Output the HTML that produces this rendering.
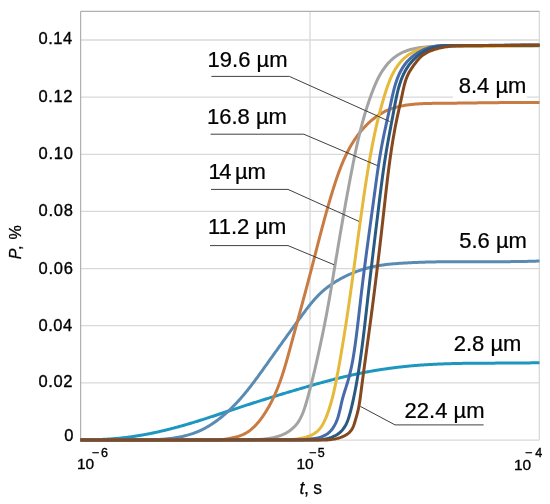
<!DOCTYPE html>
<html><head><meta charset="utf-8"><style>
html,body{margin:0;padding:0;background:#fff;}
svg{display:block;filter:blur(0.35px);}
text{font-family:"Liberation Sans",sans-serif;fill:#000;}
</style></head><body>
<svg width="550" height="504" viewBox="0 0 550 504">
<rect width="550" height="504" fill="#fff"/>
<g stroke="#d9d9d9" stroke-width="1.3" fill="none"><line x1="80.5" x2="539.5" y1="382.9" y2="382.9"/><line x1="80.5" x2="539.5" y1="325.7" y2="325.7"/><line x1="80.5" x2="539.5" y1="268.6" y2="268.6"/><line x1="80.5" x2="539.5" y1="211.4" y2="211.4"/><line x1="80.5" x2="539.5" y1="154.3" y2="154.3"/><line x1="80.5" x2="539.5" y1="97.1" y2="97.1"/><line x1="80.5" x2="539.5" y1="40.0" y2="40.0"/>
<line x1="310" x2="310" y1="11.4" y2="440"/>
<line x1="539.3" x2="539.3" y1="11.4" y2="440"/>
<line x1="80.5" x2="539.5" y1="440.2" y2="440.2"/>
</g>
<g stroke="#b0b0b0" stroke-width="1.2" fill="none">
<line x1="80.5" x2="539.5" y1="11.4" y2="11.4"/>
<line x1="80.6" x2="80.6" y1="11.4" y2="440.5"/>
</g>
<g fill="none" stroke-width="3" stroke-linejoin="round" stroke-linecap="butt">
<path d="M80.50,439.59 L81.18,439.59 L81.97,439.59 L82.76,439.59 L83.55,439.59 L84.34,439.59 L85.13,439.59 L85.92,439.59 L86.71,439.59 L87.50,439.59 L88.29,439.59 L89.07,439.59 L89.86,439.59 L90.65,439.59 L91.44,439.59 L92.23,439.59 L93.01,439.59 L93.80,439.59 L94.59,439.59 L95.37,439.59 L96.16,439.59 L96.95,439.59 L97.73,439.58 L98.52,439.55 L99.30,439.53 L100.09,439.50 L100.87,439.47 L101.66,439.44 L102.44,439.41 L103.23,439.37 L104.01,439.33 L104.80,439.29 L105.58,439.25 L106.36,439.21 L107.15,439.16 L107.93,439.11 L108.71,439.06 L109.50,439.01 L110.28,438.96 L111.06,438.90 L111.84,438.84 L112.62,438.78 L113.40,438.72 L114.18,438.66 L114.96,438.59 L115.75,438.52 L116.53,438.45 L117.30,438.38 L118.08,438.31 L118.86,438.23 L119.64,438.15 L120.42,438.08 L121.20,437.99 L121.98,437.91 L122.75,437.82 L123.53,437.74 L124.31,437.65 L125.09,437.56 L125.86,437.46 L126.64,437.37 L127.41,437.27 L128.19,437.17 L128.96,437.07 L129.74,436.97 L130.51,436.86 L131.29,436.75 L132.06,436.64 L132.84,436.53 L133.61,436.42 L134.38,436.31 L135.15,436.19 L135.93,436.07 L136.70,435.95 L137.47,435.83 L138.24,435.70 L139.01,435.58 L139.78,435.45 L140.55,435.32 L141.32,435.19 L142.09,435.05 L142.86,434.92 L143.63,434.78 L144.40,434.64 L145.16,434.50 L145.93,434.36 L146.70,434.21 L147.47,434.07 L148.23,433.92 L149.00,433.77 L149.77,433.62 L150.53,433.47 L151.30,433.31 L152.06,433.16 L152.83,433.00 L153.59,432.84 L154.35,432.68 L155.12,432.51 L155.88,432.35 L156.64,432.18 L157.41,432.02 L158.17,431.85 L158.93,431.68 L159.69,431.51 L160.45,431.33 L161.22,431.16 L161.98,430.98 L162.74,430.80 L163.50,430.62 L164.26,430.44 L165.02,430.26 L165.77,430.07 L166.53,429.89 L167.29,429.70 L168.05,429.51 L168.81,429.33 L169.57,429.13 L170.32,428.94 L171.08,428.75 L171.84,428.55 L172.59,428.36 L173.35,428.16 L174.10,427.96 L174.86,427.76 L175.61,427.56 L176.37,427.36 L177.12,427.15 L177.88,426.95 L178.63,426.74 L179.38,426.53 L180.14,426.32 L180.89,426.11 L181.64,425.90 L182.39,425.69 L183.14,425.48 L183.90,425.26 L184.65,425.04 L185.40,424.83 L186.15,424.61 L186.90,424.39 L187.65,424.17 L188.40,423.95 L189.15,423.73 L189.90,423.50 L190.65,423.28 L191.40,423.05 L192.14,422.83 L192.89,422.60 L193.64,422.37 L194.39,422.15 L195.14,421.92 L195.88,421.69 L196.63,421.45 L197.38,421.22 L198.12,420.99 L198.87,420.76 L199.62,420.52 L200.36,420.29 L201.11,420.05 L201.85,419.82 L202.60,419.58 L203.34,419.34 L204.09,419.10 L204.83,418.87 L205.58,418.63 L206.32,418.39 L207.07,418.15 L207.81,417.91 L208.56,417.66 L209.30,417.42 L210.05,417.18 L210.79,416.94 L211.53,416.69 L212.28,416.45 L213.02,416.21 L213.76,415.96 L214.51,415.72 L215.25,415.47 L215.99,415.23 L216.74,414.98 L217.48,414.74 L218.22,414.49 L218.97,414.25 L219.71,414.00 L220.45,413.75 L221.20,413.51 L221.94,413.26 L222.68,413.01 L223.42,412.77 L224.17,412.52 L224.91,412.27 L225.65,412.03 L226.40,411.78 L227.14,411.53 L227.88,411.28 L228.62,411.04 L229.37,410.79 L230.11,410.54 L230.85,410.30 L231.59,410.05 L232.34,409.80 L233.08,409.56 L233.82,409.31 L234.57,409.06 L235.31,408.82 L236.05,408.57 L236.79,408.33 L237.54,408.08 L238.28,407.84 L239.02,407.59 L239.77,407.35 L240.51,407.11 L241.25,406.86 L242.00,406.62 L242.74,406.38 L243.49,406.13 L244.23,405.89 L244.97,405.65 L245.72,405.41 L246.46,405.17 L247.21,404.93 L247.95,404.69 L248.70,404.45 L249.44,404.21 L250.19,403.97 L250.93,403.73 L251.68,403.49 L252.42,403.25 L253.17,403.02 L253.91,402.78 L254.66,402.54 L255.40,402.31 L256.15,402.07 L256.89,401.83 L257.64,401.60 L258.38,401.36 L259.13,401.13 L259.88,400.89 L260.62,400.66 L261.37,400.43 L262.12,400.19 L262.86,399.96 L263.61,399.73 L264.35,399.49 L265.10,399.26 L265.85,399.03 L266.60,398.80 L267.34,398.57 L268.09,398.33 L268.84,398.10 L269.58,397.87 L270.33,397.64 L271.08,397.41 L271.83,397.18 L272.57,396.95 L273.32,396.73 L274.07,396.50 L274.82,396.27 L275.57,396.04 L276.31,395.81 L277.06,395.58 L277.81,395.36 L278.56,395.13 L279.31,394.90 L280.06,394.68 L280.80,394.45 L281.55,394.23 L282.30,394.00 L283.05,393.77 L283.80,393.55 L284.55,393.32 L285.30,393.10 L286.05,392.88 L286.80,392.65 L287.55,392.43 L288.30,392.20 L289.05,391.98 L289.80,391.76 L290.55,391.54 L291.30,391.31 L292.05,391.09 L292.80,390.87 L293.55,390.65 L294.30,390.43 L295.05,390.20 L295.80,389.98 L296.55,389.76 L297.30,389.54 L298.05,389.32 L298.80,389.10 L299.55,388.88 L300.31,388.66 L301.06,388.44 L301.81,388.22 L302.56,388.01 L303.31,387.79 L304.06,387.57 L304.82,387.35 L305.57,387.13 L306.32,386.92 L307.07,386.70 L307.82,386.48 L308.58,386.27 L309.33,386.05 L310.08,385.84 L310.84,385.62 L311.59,385.41 L312.34,385.19 L313.09,384.98 L313.85,384.77 L314.60,384.56 L315.36,384.34 L316.11,384.13 L316.86,383.92 L317.62,383.71 L318.37,383.50 L319.13,383.29 L319.88,383.08 L320.64,382.88 L321.39,382.67 L322.15,382.46 L322.90,382.26 L323.66,382.05 L324.41,381.85 L325.17,381.65 L325.92,381.44 L326.68,381.24 L327.44,381.04 L328.19,380.84 L328.95,380.64 L329.71,380.44 L330.46,380.24 L331.22,380.04 L331.98,379.85 L332.73,379.65 L333.49,379.46 L334.25,379.26 L335.01,379.07 L335.77,378.88 L336.53,378.69 L337.28,378.50 L338.04,378.31 L338.80,378.12 L339.56,377.93 L340.32,377.74 L341.08,377.56 L341.84,377.37 L342.60,377.19 L343.36,377.01 L344.12,376.83 L344.88,376.65 L345.64,376.47 L346.41,376.29 L347.17,376.11 L347.93,375.94 L348.69,375.76 L349.45,375.59 L350.22,375.42 L350.98,375.25 L351.74,375.08 L352.51,374.91 L353.27,374.74 L354.03,374.57 L354.80,374.41 L355.56,374.24 L356.33,374.08 L357.09,373.92 L357.86,373.76 L358.62,373.60 L359.39,373.45 L360.15,373.29 L360.92,373.14 L361.69,372.98 L362.45,372.83 L363.22,372.68 L363.99,372.53 L364.75,372.38 L365.52,372.24 L366.29,372.09 L367.06,371.95 L367.83,371.81 L368.60,371.66 L369.36,371.52 L370.13,371.39 L370.90,371.25 L371.67,371.11 L372.44,370.98 L373.21,370.85 L373.98,370.71 L374.75,370.58 L375.53,370.45 L376.30,370.33 L377.07,370.20 L377.84,370.07 L378.61,369.95 L379.38,369.83 L380.15,369.71 L380.93,369.59 L381.70,369.47 L382.47,369.35 L383.25,369.23 L384.02,369.12 L384.79,369.00 L385.57,368.89 L386.34,368.78 L387.11,368.67 L387.89,368.56 L388.66,368.45 L389.44,368.35 L390.21,368.24 L390.99,368.14 L391.76,368.04 L392.54,367.94 L393.31,367.84 L394.09,367.74 L394.86,367.64 L395.64,367.54 L396.42,367.45 L397.19,367.36 L397.97,367.26 L398.74,367.17 L399.52,367.08 L400.30,366.99 L401.08,366.91 L401.85,366.82 L402.63,366.73 L403.41,366.65 L404.19,366.57 L404.96,366.49 L405.74,366.41 L406.52,366.33 L407.30,366.25 L408.08,366.17 L408.85,366.10 L409.63,366.02 L410.41,365.95 L411.19,365.88 L411.97,365.81 L412.75,365.74 L413.53,365.67 L414.31,365.61 L415.09,365.54 L415.87,365.48 L416.65,365.41 L417.43,365.35 L418.21,365.29 L418.99,365.23 L419.77,365.17 L420.55,365.11 L421.33,365.06 L422.11,365.00 L422.89,364.95 L423.67,364.89 L424.45,364.84 L425.23,364.79 L426.01,364.74 L426.79,364.69 L427.57,364.64 L428.35,364.60 L429.14,364.55 L429.92,364.51 L430.70,364.46 L431.48,364.42 L432.26,364.38 L433.04,364.34 L433.82,364.30 L434.61,364.26 L435.39,364.22 L436.17,364.18 L436.95,364.15 L437.73,364.11 L438.52,364.08 L439.30,364.04 L440.08,364.01 L440.86,363.98 L441.65,363.95 L442.43,363.92 L443.21,363.89 L443.99,363.86 L444.78,363.83 L445.56,363.80 L446.34,363.78 L447.12,363.75 L447.91,363.73 L448.69,363.70 L449.47,363.68 L450.26,363.66 L451.04,363.63 L451.82,363.61 L452.61,363.59 L453.39,363.57 L454.17,363.55 L454.96,363.53 L455.74,363.51 L456.52,363.50 L457.31,363.48 L458.09,363.46 L458.87,363.45 L459.66,363.43 L460.44,363.42 L461.22,363.40 L462.01,363.39 L462.79,363.37 L463.57,363.36 L464.36,363.35 L465.14,363.34 L465.92,363.33 L466.71,363.31 L467.49,363.30 L468.27,363.29 L469.06,363.28 L469.84,363.28 L470.63,363.27 L471.41,363.26 L472.19,363.25 L472.98,363.24 L473.76,363.23 L474.54,363.23 L475.33,363.22 L476.11,363.21 L476.90,363.21 L477.68,363.20 L478.46,363.20 L479.25,363.19 L480.03,363.19 L480.81,363.18 L481.60,363.18 L482.38,363.17 L483.17,363.17 L483.95,363.17 L484.73,363.16 L485.52,363.16 L486.30,363.15 L487.08,363.15 L487.87,363.15 L488.65,363.15 L489.43,363.14 L490.22,363.14 L491.00,363.14 L491.78,363.14 L492.57,363.13 L493.35,363.13 L494.13,363.13 L494.92,363.13 L495.70,363.12 L496.48,363.12 L497.27,363.12 L498.05,363.12 L498.83,363.11 L499.62,363.11 L500.40,363.11 L501.18,363.11 L501.96,363.11 L502.75,363.10 L503.53,363.10 L504.31,363.10 L505.09,363.09 L505.88,363.09 L506.66,363.09 L507.44,363.09 L508.22,363.08 L509.01,363.08 L509.79,363.07 L510.57,363.07 L511.35,363.07 L512.14,363.06 L512.92,363.06 L513.70,363.05 L514.48,363.05 L515.26,363.04 L516.04,363.04 L516.83,363.03 L517.61,363.02 L518.39,363.02 L519.17,363.01 L519.95,363.00 L520.73,363.00 L521.51,362.99 L522.29,362.98 L523.08,362.97 L523.86,362.96 L524.64,362.95 L525.42,362.94 L526.20,362.93 L526.98,362.92 L527.76,362.91 L528.54,362.90 L529.32,362.89 L530.10,362.88 L530.88,362.86 L531.66,362.85 L532.44,362.84 L533.22,362.82 L534.00,362.81 L534.78,362.79 L535.56,362.77 L536.34,362.76 L537.11,362.74 L537.89,362.72 L538.67,362.70 L539.45,362.68" stroke="#1d96c0"/><path d="M80.51,440.00 L81.39,440.00 L82.28,440.00 L83.17,440.00 L84.05,440.00 L84.94,440.00 L85.83,440.00 L86.72,439.99 L87.61,439.96 L88.49,439.94 L89.38,439.92 L90.27,439.90 L91.16,439.88 L92.04,439.87 L92.93,439.86 L93.82,439.85 L94.71,439.84 L95.59,439.83 L96.48,439.82 L97.37,439.82 L98.26,439.82 L99.15,439.82 L100.03,439.82 L100.92,439.82 L101.81,439.82 L102.70,439.82 L103.59,439.82 L104.47,439.82 L105.36,439.82 L106.25,439.82 L107.14,439.82 L108.03,439.82 L108.91,439.82 L109.80,439.82 L110.69,439.82 L111.58,439.82 L112.47,439.82 L113.35,439.82 L114.24,439.82 L115.13,439.82 L116.02,439.82 L116.91,439.82 L117.79,439.82 L118.68,439.82 L119.57,439.82 L120.46,439.82 L121.35,439.82 L122.23,439.82 L123.12,439.82 L124.01,439.82 L124.90,439.82 L125.79,439.82 L126.67,439.82 L127.56,439.82 L128.45,439.82 L129.34,439.82 L130.23,439.82 L131.11,439.82 L132.00,439.82 L132.89,439.82 L133.78,439.82 L134.67,439.82 L135.55,439.82 L136.44,439.82 L137.33,439.82 L138.22,439.82 L139.11,439.82 L139.99,439.82 L140.88,439.82 L141.77,439.82 L142.66,439.82 L143.55,439.82 L144.43,439.82 L145.32,439.82 L146.21,439.82 L147.10,439.82 L147.98,439.82 L148.87,439.82 L149.76,439.82 L150.65,439.82 L151.53,439.82 L152.42,439.82 L153.31,439.82 L154.20,439.79 L155.08,439.75 L155.97,439.70 L156.86,439.65 L157.75,439.60 L158.63,439.54 L159.52,439.48 L160.41,439.42 L161.30,439.35 L162.18,439.28 L163.07,439.21 L163.96,439.13 L164.84,439.05 L165.73,438.97 L166.62,438.88 L167.50,438.78 L168.39,438.69 L169.27,438.59 L170.15,438.48 L171.04,438.37 L171.92,438.25 L172.80,438.13 L173.68,438.00 L174.56,437.87 L175.43,437.74 L176.31,437.59 L177.18,437.44 L178.06,437.29 L178.93,437.13 L179.80,436.96 L180.66,436.79 L181.53,436.61 L182.39,436.42 L183.26,436.23 L184.12,436.02 L184.97,435.82 L185.83,435.60 L186.68,435.38 L187.53,435.15 L188.38,434.91 L189.23,434.66 L190.07,434.41 L190.91,434.15 L191.75,433.88 L192.58,433.60 L193.42,433.31 L194.25,433.01 L195.07,432.71 L195.89,432.39 L196.71,432.07 L197.53,431.74 L198.34,431.40 L199.15,431.04 L199.96,430.68 L200.76,430.31 L201.56,429.93 L202.35,429.54 L203.14,429.15 L203.93,428.74 L204.71,428.33 L205.49,427.91 L206.27,427.48 L207.04,427.04 L207.81,426.59 L208.58,426.14 L209.34,425.68 L210.10,425.21 L210.85,424.74 L211.60,424.26 L212.34,423.77 L213.09,423.28 L213.82,422.78 L214.56,422.27 L215.29,421.76 L216.01,421.24 L216.73,420.71 L217.45,420.18 L218.17,419.65 L218.87,419.11 L219.58,418.56 L220.28,418.01 L220.98,417.46 L221.67,416.90 L222.36,416.34 L223.04,415.77 L223.72,415.20 L224.40,414.62 L225.07,414.04 L225.73,413.46 L226.40,412.87 L227.06,412.28 L227.71,411.68 L228.36,411.08 L229.01,410.48 L229.65,409.87 L230.29,409.26 L230.93,408.65 L231.56,408.03 L232.19,407.41 L232.82,406.79 L233.44,406.16 L234.06,405.53 L234.68,404.89 L235.29,404.26 L235.90,403.61 L236.50,402.97 L237.11,402.33 L237.71,401.68 L238.30,401.02 L238.90,400.37 L239.49,399.71 L240.08,399.05 L240.66,398.39 L241.25,397.72 L241.83,397.05 L242.40,396.38 L242.98,395.71 L243.55,395.03 L244.12,394.35 L244.69,393.67 L245.25,392.99 L245.82,392.31 L246.38,391.62 L246.94,390.93 L247.49,390.24 L248.05,389.55 L248.60,388.85 L249.15,388.16 L249.70,387.46 L250.24,386.76 L250.79,386.06 L251.33,385.35 L251.87,384.65 L252.41,383.94 L252.95,383.24 L253.49,382.53 L254.02,381.82 L254.55,381.10 L255.09,380.39 L255.62,379.68 L256.15,378.96 L256.67,378.25 L257.20,377.53 L257.73,376.81 L258.25,376.09 L258.78,375.37 L259.30,374.65 L259.82,373.93 L260.34,373.21 L260.86,372.49 L261.38,371.77 L261.90,371.04 L262.42,370.32 L262.94,369.60 L263.45,368.87 L263.97,368.15 L264.49,367.42 L265.00,366.70 L265.52,365.97 L266.03,365.25 L266.55,364.52 L267.06,363.80 L267.58,363.07 L268.09,362.35 L268.61,361.62 L269.12,360.90 L269.64,360.18 L270.15,359.45 L270.67,358.73 L271.18,358.00 L271.69,357.28 L272.21,356.56 L272.72,355.84 L273.24,355.11 L273.75,354.39 L274.27,353.67 L274.78,352.95 L275.30,352.22 L275.81,351.50 L276.33,350.78 L276.84,350.06 L277.36,349.34 L277.87,348.62 L278.39,347.90 L278.90,347.18 L279.42,346.45 L279.93,345.73 L280.45,345.01 L280.97,344.29 L281.48,343.57 L282.00,342.85 L282.51,342.14 L283.03,341.42 L283.55,340.70 L284.06,339.98 L284.58,339.26 L285.10,338.54 L285.61,337.82 L286.13,337.10 L286.65,336.38 L287.17,335.67 L287.68,334.95 L288.20,334.23 L288.72,333.51 L289.24,332.79 L289.76,332.08 L290.28,331.36 L290.80,330.64 L291.32,329.93 L291.84,329.21 L292.36,328.49 L292.88,327.78 L293.40,327.06 L293.92,326.34 L294.44,325.63 L294.96,324.91 L295.48,324.19 L296.00,323.48 L296.53,322.76 L297.05,322.05 L297.57,321.33 L298.10,320.62 L298.62,319.90 L299.14,319.19 L299.67,318.47 L300.19,317.76 L300.72,317.04 L301.24,316.33 L301.77,315.61 L302.30,314.90 L302.82,314.18 L303.35,313.47 L303.88,312.76 L304.41,312.04 L304.94,311.33 L305.47,310.62 L306.01,309.92 L306.54,309.21 L307.08,308.50 L307.62,307.80 L308.16,307.10 L308.71,306.40 L309.26,305.71 L309.81,305.02 L310.36,304.33 L310.92,303.64 L311.48,302.96 L312.04,302.28 L312.61,301.60 L313.18,300.93 L313.76,300.26 L314.34,299.60 L314.93,298.94 L315.52,298.29 L316.11,297.64 L316.71,297.00 L317.32,296.36 L317.93,295.73 L318.54,295.10 L319.16,294.48 L319.79,293.87 L320.43,293.26 L321.07,292.66 L321.72,292.07 L322.37,291.48 L323.03,290.90 L323.69,290.32 L324.37,289.76 L325.04,289.20 L325.73,288.64 L326.42,288.09 L327.11,287.55 L327.81,287.02 L328.52,286.49 L329.23,285.96 L329.95,285.45 L330.67,284.94 L331.40,284.43 L332.13,283.94 L332.87,283.45 L333.61,282.96 L334.35,282.48 L335.10,282.01 L335.86,281.54 L336.61,281.08 L337.38,280.62 L338.14,280.17 L338.91,279.73 L339.69,279.29 L340.47,278.86 L341.25,278.43 L342.03,278.01 L342.82,277.60 L343.61,277.19 L344.41,276.79 L345.20,276.39 L346.01,276.00 L346.81,275.61 L347.62,275.23 L348.43,274.86 L349.24,274.49 L350.06,274.13 L350.88,273.78 L351.70,273.43 L352.52,273.08 L353.35,272.75 L354.18,272.42 L355.01,272.09 L355.84,271.77 L356.68,271.46 L357.52,271.15 L358.36,270.85 L359.20,270.56 L360.05,270.27 L360.89,269.99 L361.74,269.71 L362.59,269.45 L363.45,269.18 L364.30,268.93 L365.16,268.68 L366.01,268.43 L366.87,268.20 L367.73,267.97 L368.59,267.74 L369.46,267.52 L370.32,267.31 L371.19,267.11 L372.05,266.91 L372.92,266.72 L373.79,266.53 L374.66,266.36 L375.53,266.18 L376.40,266.02 L377.27,265.86 L378.14,265.71 L379.02,265.56 L379.89,265.42 L380.76,265.28 L381.64,265.15 L382.52,265.02 L383.39,264.90 L384.27,264.78 L385.15,264.67 L386.03,264.57 L386.90,264.46 L387.78,264.36 L388.66,264.27 L389.54,264.18 L390.43,264.09 L391.31,264.01 L392.19,263.93 L393.07,263.85 L393.95,263.77 L394.84,263.70 L395.72,263.63 L396.60,263.56 L397.48,263.50 L398.37,263.43 L399.25,263.37 L400.14,263.31 L401.02,263.26 L401.90,263.20 L402.79,263.14 L403.67,263.09 L404.56,263.04 L405.44,262.98 L406.33,262.93 L407.21,262.88 L408.10,262.84 L408.98,262.79 L409.87,262.74 L410.75,262.70 L411.64,262.66 L412.52,262.62 L413.41,262.57 L414.30,262.53 L415.18,262.50 L416.07,262.46 L416.95,262.42 L417.84,262.39 L418.73,262.35 L419.61,262.32 L420.50,262.29 L421.39,262.26 L422.27,262.23 L423.16,262.20 L424.05,262.17 L424.93,262.14 L425.82,262.11 L426.71,262.09 L427.59,262.06 L428.48,262.04 L429.37,262.02 L430.25,262.00 L431.14,261.98 L432.03,261.95 L432.92,261.94 L433.80,261.92 L434.69,261.90 L435.58,261.88 L436.47,261.87 L437.36,261.85 L438.24,261.83 L439.13,261.82 L440.02,261.81 L440.91,261.79 L441.80,261.78 L442.68,261.77 L443.57,261.76 L444.46,261.75 L445.35,261.74 L446.24,261.73 L447.12,261.72 L448.01,261.71 L448.90,261.71 L449.79,261.70 L450.68,261.69 L451.57,261.69 L452.46,261.68 L453.34,261.68 L454.23,261.67 L455.12,261.67 L456.01,261.66 L456.90,261.66 L457.79,261.66 L458.68,261.66 L459.57,261.65 L460.45,261.65 L461.34,261.65 L462.23,261.65 L463.12,261.65 L464.01,261.65 L464.90,261.65 L465.79,261.65 L466.68,261.65 L467.56,261.65 L468.45,261.65 L469.34,261.65 L470.23,261.65 L471.12,261.65 L472.01,261.65 L472.90,261.65 L473.79,261.65 L474.68,261.65 L475.57,261.65 L476.45,261.65 L477.34,261.65 L478.23,261.65 L479.12,261.65 L480.01,261.65 L480.90,261.65 L481.79,261.65 L482.68,261.65 L483.57,261.65 L484.45,261.65 L485.34,261.65 L486.23,261.65 L487.12,261.65 L488.01,261.65 L488.90,261.65 L489.79,261.65 L490.68,261.65 L491.56,261.65 L492.45,261.65 L493.34,261.65 L494.23,261.65 L495.12,261.65 L496.01,261.65 L496.90,261.65 L497.78,261.65 L498.67,261.65 L499.56,261.65 L500.45,261.65 L501.34,261.65 L502.23,261.65 L503.11,261.65 L504.00,261.65 L504.89,261.65 L505.78,261.65 L506.67,261.65 L507.55,261.65 L508.44,261.64 L509.33,261.63 L510.22,261.63 L511.10,261.62 L511.99,261.61 L512.88,261.60 L513.77,261.60 L514.65,261.59 L515.54,261.58 L516.43,261.56 L517.32,261.55 L518.20,261.54 L519.09,261.53 L519.98,261.52 L520.86,261.50 L521.75,261.49 L522.64,261.47 L523.52,261.46 L524.41,261.44 L525.30,261.42 L526.18,261.40 L527.07,261.38 L527.96,261.36 L528.84,261.34 L529.73,261.32 L530.61,261.30 L531.50,261.27 L532.39,261.25 L533.27,261.23 L534.16,261.20 L535.04,261.17 L535.93,261.14 L536.81,261.12 L537.70,261.09 L538.58,261.05 L539.47,261.02" stroke="#5a8bb3"/><path d="M80.50,439.76 L81.54,439.76 L82.69,439.76 L83.85,439.76 L85.00,439.76 L86.15,439.76 L87.30,439.76 L88.45,439.76 L89.60,439.76 L90.74,439.76 L91.89,439.76 L93.04,439.76 L94.18,439.76 L95.33,439.76 L96.47,439.76 L97.61,439.76 L98.76,439.76 L99.90,439.76 L101.04,439.76 L102.18,439.76 L103.32,439.76 L104.46,439.76 L105.60,439.76 L106.74,439.76 L107.88,439.76 L109.01,439.76 L110.15,439.76 L111.29,439.76 L112.42,439.76 L113.56,439.76 L114.69,439.76 L115.83,439.76 L116.96,439.76 L118.10,439.76 L119.23,439.76 L120.37,439.76 L121.50,439.76 L122.63,439.76 L123.76,439.76 L124.90,439.76 L126.03,439.76 L127.16,439.76 L128.29,439.76 L129.43,439.76 L130.56,439.76 L131.69,439.76 L132.82,439.76 L133.95,439.76 L135.08,439.76 L136.21,439.76 L137.35,439.76 L138.48,439.76 L139.61,439.76 L140.74,439.76 L141.87,439.76 L143.00,439.76 L144.13,439.76 L145.26,439.76 L146.40,439.76 L147.53,439.76 L148.66,439.76 L149.79,439.76 L150.92,439.76 L152.06,439.76 L153.19,439.76 L154.32,439.76 L155.46,439.76 L156.59,439.76 L157.72,439.76 L158.86,439.76 L159.99,439.76 L161.13,439.75 L162.26,439.75 L163.40,439.75 L164.53,439.75 L165.67,439.75 L166.81,439.75 L167.94,439.75 L169.08,439.75 L170.22,439.75 L171.36,439.75 L172.50,439.75 L173.64,439.75 L174.78,439.75 L175.92,439.75 L177.06,439.75 L178.21,439.75 L179.35,439.75 L180.49,439.75 L181.64,439.75 L182.78,439.75 L183.93,439.75 L185.07,439.75 L186.22,439.75 L187.37,439.75 L188.52,439.75 L189.67,439.75 L190.82,439.75 L191.97,439.75 L193.12,439.75 L194.27,439.75 L195.42,439.75 L196.57,439.75 L197.72,439.75 L198.87,439.75 L200.02,439.75 L201.17,439.75 L202.32,439.75 L203.47,439.75 L204.62,439.75 L205.77,439.75 L206.91,439.75 L208.06,439.75 L209.20,439.75 L210.35,439.75 L211.49,439.75 L212.63,439.75 L213.77,439.75 L214.91,439.75 L216.04,439.75 L217.17,439.75 L218.31,439.75 L219.44,439.75 L220.56,439.74 L221.69,439.63 L222.81,439.51 L223.93,439.37 L225.05,439.23 L226.17,439.07 L227.28,438.89 L228.39,438.71 L229.50,438.51 L230.60,438.30 L231.70,438.07 L232.80,437.82 L233.89,437.56 L234.98,437.29 L236.07,436.99 L237.14,436.68 L238.21,436.34 L239.27,435.99 L240.32,435.61 L241.35,435.21 L242.38,434.78 L243.39,434.33 L244.39,433.85 L245.37,433.34 L246.34,432.81 L247.29,432.24 L248.22,431.64 L249.14,431.02 L250.04,430.36 L250.92,429.67 L251.78,428.96 L252.62,428.23 L253.46,427.47 L254.27,426.69 L255.07,425.88 L255.85,425.06 L256.62,424.22 L257.38,423.36 L258.12,422.49 L258.85,421.60 L259.57,420.71 L260.27,419.80 L260.96,418.88 L261.64,417.95 L262.31,417.01 L262.97,416.07 L263.62,415.12 L264.25,414.17 L264.88,413.22 L265.50,412.26 L266.10,411.29 L266.70,410.32 L267.29,409.35 L267.86,408.37 L268.43,407.39 L268.99,406.40 L269.54,405.41 L270.08,404.41 L270.61,403.42 L271.13,402.41 L271.65,401.40 L272.16,400.39 L272.65,399.38 L273.14,398.36 L273.63,397.34 L274.10,396.31 L274.57,395.28 L275.03,394.25 L275.48,393.22 L275.93,392.18 L276.37,391.14 L276.80,390.09 L277.23,389.04 L277.65,387.99 L278.06,386.94 L278.47,385.88 L278.87,384.82 L279.27,383.76 L279.66,382.70 L280.05,381.63 L280.43,380.57 L280.80,379.49 L281.17,378.42 L281.54,377.35 L281.90,376.27 L282.26,375.19 L282.61,374.11 L282.96,373.03 L283.31,371.94 L283.65,370.86 L283.98,369.77 L284.32,368.68 L284.65,367.59 L284.98,366.50 L285.30,365.41 L285.62,364.31 L285.94,363.22 L286.26,362.12 L286.57,361.02 L286.89,359.92 L287.20,358.83 L287.51,357.73 L287.81,356.63 L288.12,355.53 L288.42,354.42 L288.73,353.32 L289.03,352.22 L289.33,351.12 L289.63,350.02 L289.93,348.91 L290.23,347.81 L290.53,346.71 L290.83,345.61 L291.13,344.51 L291.43,343.40 L291.73,342.30 L292.03,341.20 L292.33,340.10 L292.63,339.00 L292.93,337.90 L293.23,336.80 L293.53,335.70 L293.83,334.60 L294.13,333.50 L294.43,332.40 L294.73,331.30 L295.03,330.20 L295.33,329.10 L295.63,328.00 L295.93,326.90 L296.23,325.80 L296.53,324.70 L296.83,323.60 L297.12,322.50 L297.42,321.41 L297.72,320.31 L298.02,319.21 L298.32,318.11 L298.62,317.01 L298.92,315.92 L299.22,314.82 L299.51,313.72 L299.81,312.62 L300.11,311.53 L300.41,310.43 L300.71,309.33 L301.00,308.23 L301.30,307.14 L301.60,306.04 L301.89,304.94 L302.19,303.85 L302.49,302.75 L302.78,301.65 L303.08,300.56 L303.37,299.46 L303.67,298.36 L303.96,297.27 L304.26,296.17 L304.55,295.07 L304.85,293.98 L305.14,292.88 L305.43,291.79 L305.73,290.69 L306.02,289.59 L306.31,288.50 L306.60,287.40 L306.89,286.30 L307.18,285.21 L307.48,284.11 L307.77,283.02 L308.06,281.92 L308.34,280.82 L308.63,279.73 L308.92,278.63 L309.21,277.54 L309.50,276.44 L309.79,275.34 L310.07,274.25 L310.36,273.15 L310.64,272.06 L310.93,270.96 L311.21,269.86 L311.50,268.77 L311.78,267.67 L312.07,266.58 L312.35,265.48 L312.63,264.38 L312.91,263.29 L313.20,262.19 L313.48,261.09 L313.76,260.00 L314.04,258.90 L314.32,257.81 L314.61,256.71 L314.89,255.61 L315.17,254.52 L315.45,253.42 L315.73,252.32 L316.01,251.23 L316.30,250.13 L316.58,249.03 L316.86,247.94 L317.14,246.84 L317.43,245.74 L317.71,244.65 L317.99,243.55 L318.28,242.45 L318.56,241.36 L318.85,240.26 L319.13,239.16 L319.42,238.07 L319.70,236.97 L319.99,235.88 L320.28,234.78 L320.56,233.68 L320.85,232.59 L321.14,231.49 L321.43,230.39 L321.72,229.30 L322.01,228.20 L322.30,227.10 L322.60,226.01 L322.89,224.91 L323.19,223.81 L323.48,222.72 L323.78,221.62 L324.08,220.52 L324.38,219.43 L324.68,218.33 L324.98,217.23 L325.28,216.14 L325.58,215.04 L325.89,213.94 L326.19,212.85 L326.50,211.75 L326.81,210.65 L327.12,209.56 L327.43,208.46 L327.74,207.36 L328.05,206.27 L328.37,205.17 L328.69,204.08 L329.01,202.98 L329.33,201.88 L329.65,200.79 L329.97,199.69 L330.30,198.59 L330.62,197.50 L330.95,196.40 L331.28,195.30 L331.61,194.21 L331.95,193.11 L332.28,192.02 L332.62,190.92 L332.96,189.82 L333.30,188.73 L333.65,187.63 L333.99,186.54 L334.34,185.44 L334.69,184.35 L335.05,183.25 L335.40,182.16 L335.76,181.07 L336.13,179.98 L336.49,178.89 L336.86,177.80 L337.24,176.72 L337.62,175.63 L338.00,174.55 L338.38,173.47 L338.78,172.39 L339.17,171.32 L339.57,170.24 L339.98,169.17 L340.39,168.10 L340.80,167.04 L341.22,165.98 L341.65,164.92 L342.08,163.86 L342.51,162.81 L342.96,161.76 L343.41,160.71 L343.86,159.67 L344.32,158.63 L344.79,157.60 L345.27,156.57 L345.75,155.54 L346.24,154.52 L346.73,153.51 L347.23,152.50 L347.74,151.49 L348.26,150.49 L348.79,149.49 L349.32,148.50 L349.86,147.51 L350.41,146.53 L350.97,145.56 L351.54,144.59 L352.12,143.63 L352.70,142.67 L353.29,141.72 L353.90,140.78 L354.51,139.84 L355.13,138.91 L355.76,137.99 L356.40,137.07 L357.06,136.16 L357.72,135.26 L358.39,134.37 L359.07,133.48 L359.76,132.60 L360.47,131.73 L361.18,130.86 L361.91,130.01 L362.64,129.16 L363.39,128.32 L364.15,127.49 L364.92,126.67 L365.70,125.85 L366.50,125.05 L367.31,124.25 L368.12,123.46 L368.96,122.69 L369.80,121.92 L370.66,121.16 L371.53,120.41 L372.41,119.68 L373.30,118.95 L374.21,118.24 L375.12,117.54 L376.05,116.85 L376.99,116.18 L377.94,115.53 L378.90,114.89 L379.87,114.27 L380.85,113.67 L381.84,113.09 L382.84,112.53 L383.85,111.98 L384.87,111.46 L385.89,110.96 L386.93,110.49 L387.97,110.03 L389.02,109.60 L390.07,109.19 L391.14,108.80 L392.20,108.43 L393.28,108.08 L394.36,107.75 L395.45,107.44 L396.54,107.14 L397.63,106.86 L398.73,106.59 L399.83,106.34 L400.93,106.10 L402.04,105.88 L403.15,105.67 L404.26,105.47 L405.37,105.28 L406.49,105.10 L407.61,104.94 L408.73,104.79 L409.85,104.64 L410.98,104.51 L412.10,104.39 L413.23,104.27 L414.36,104.17 L415.49,104.07 L416.62,103.98 L417.75,103.90 L418.89,103.83 L420.03,103.76 L421.16,103.70 L422.30,103.65 L423.44,103.60 L424.58,103.55 L425.72,103.52 L426.86,103.48 L428.00,103.45 L429.14,103.43 L430.29,103.41 L431.43,103.39 L432.57,103.37 L433.72,103.36 L434.86,103.34 L436.00,103.33 L437.15,103.32 L438.29,103.31 L439.43,103.30 L440.57,103.29 L441.72,103.28 L442.86,103.27 L444.00,103.26 L445.14,103.25 L446.28,103.24 L447.42,103.23 L448.56,103.22 L449.70,103.21 L450.84,103.20 L451.98,103.18 L453.12,103.17 L454.26,103.16 L455.40,103.15 L456.53,103.13 L457.67,103.12 L458.81,103.11 L459.95,103.09 L461.08,103.08 L462.22,103.07 L463.36,103.05 L464.49,103.04 L465.63,103.02 L466.77,103.01 L467.90,103.00 L469.04,102.98 L470.17,102.97 L471.31,102.95 L472.44,102.94 L473.58,102.93 L474.71,102.91 L475.85,102.90 L476.98,102.88 L478.12,102.87 L479.25,102.85 L480.39,102.84 L481.52,102.83 L482.66,102.81 L483.79,102.80 L484.93,102.78 L486.06,102.77 L487.20,102.76 L488.33,102.74 L489.46,102.73 L490.60,102.72 L491.73,102.71 L492.87,102.69 L494.00,102.68 L495.14,102.67 L496.27,102.66 L497.41,102.64 L498.54,102.63 L499.68,102.62 L500.81,102.61 L501.95,102.60 L503.08,102.59 L504.22,102.58 L505.36,102.57 L506.49,102.56 L507.63,102.55 L508.76,102.54 L509.90,102.53 L511.04,102.53 L512.17,102.52 L513.31,102.51 L514.45,102.51 L515.59,102.50 L516.72,102.49 L517.86,102.49 L519.00,102.48 L520.14,102.48 L521.28,102.47 L522.42,102.47 L523.56,102.47 L524.70,102.46 L525.84,102.46 L526.98,102.46 L528.12,102.46 L529.26,102.46 L530.40,102.46 L531.54,102.46 L532.68,102.46 L533.83,102.46 L534.97,102.46 L536.11,102.46 L537.26,102.46 L538.40,102.46 L539.50,102.46" stroke="#c87b42"/><path d="M80.53,439.99 L81.78,439.99 L83.03,439.99 L84.28,439.99 L85.53,439.99 L86.78,439.99 L88.03,439.99 L89.28,439.99 L90.54,439.99 L91.79,439.99 L93.04,439.99 L94.29,439.99 L95.54,439.99 L96.80,439.99 L98.05,439.99 L99.30,439.99 L100.56,439.99 L101.81,439.99 L103.06,439.99 L104.32,439.99 L105.57,439.99 L106.82,439.99 L108.08,439.99 L109.33,439.99 L110.59,439.99 L111.84,439.99 L113.10,439.99 L114.35,439.99 L115.60,439.99 L116.86,439.99 L118.11,439.99 L119.37,439.99 L120.62,439.99 L121.88,439.99 L123.14,439.99 L124.39,439.99 L125.65,439.99 L126.90,439.99 L128.16,439.99 L129.41,439.99 L130.67,439.99 L131.92,439.99 L133.18,439.99 L134.44,439.99 L135.69,439.99 L136.95,439.99 L138.20,439.99 L139.46,439.99 L140.72,439.99 L141.97,439.99 L143.23,439.99 L144.48,439.99 L145.74,439.99 L146.99,439.99 L148.25,439.99 L149.51,439.99 L150.76,439.99 L152.02,439.99 L153.27,439.99 L154.53,439.99 L155.78,439.99 L157.04,439.99 L158.30,439.99 L159.55,439.99 L160.81,439.99 L162.06,439.99 L163.32,439.99 L164.57,439.99 L165.83,439.99 L167.08,439.99 L168.34,439.99 L169.59,439.99 L170.85,439.99 L172.10,439.99 L173.36,439.99 L174.61,439.99 L175.86,439.99 L177.12,439.99 L178.37,439.99 L179.63,439.99 L180.88,439.99 L182.13,439.99 L183.39,439.99 L184.64,439.99 L185.89,439.99 L187.15,439.99 L188.40,439.99 L189.65,439.99 L190.90,439.99 L192.15,439.99 L193.41,439.99 L194.66,439.99 L195.91,439.99 L197.16,439.99 L198.41,439.99 L199.66,439.99 L200.92,439.99 L202.17,439.99 L203.42,439.99 L204.67,439.99 L205.92,439.99 L207.17,439.99 L208.42,439.99 L209.67,439.99 L210.92,439.99 L212.18,439.99 L213.43,439.99 L214.68,439.99 L215.93,439.99 L217.18,439.99 L218.43,439.99 L219.68,439.99 L220.94,439.99 L222.19,439.99 L223.44,439.99 L224.69,439.99 L225.95,439.99 L227.20,439.99 L228.45,439.99 L229.71,439.99 L230.96,439.99 L232.22,439.99 L233.47,439.99 L234.73,439.98 L235.98,439.98 L237.24,439.97 L238.49,439.97 L239.75,439.96 L241.01,439.95 L242.27,439.95 L243.52,439.94 L244.78,439.93 L246.04,439.92 L247.30,439.91 L248.56,439.89 L249.82,439.87 L251.08,439.85 L252.34,439.82 L253.60,439.78 L254.86,439.73 L256.12,439.68 L257.38,439.61 L258.64,439.54 L259.90,439.46 L261.16,439.36 L262.42,439.25 L263.67,439.12 L264.93,438.98 L266.19,438.83 L267.44,438.66 L268.70,438.47 L269.95,438.26 L271.20,438.03 L272.45,437.79 L273.69,437.52 L274.93,437.22 L276.16,436.91 L277.37,436.56 L278.58,436.19 L279.77,435.79 L280.95,435.36 L282.10,434.91 L283.25,434.41 L284.37,433.89 L285.47,433.33 L286.55,432.74 L287.60,432.11 L288.63,431.45 L289.64,430.75 L290.62,430.03 L291.57,429.27 L292.49,428.48 L293.39,427.66 L294.25,426.81 L295.09,425.93 L295.89,425.02 L296.66,424.08 L297.40,423.12 L298.10,422.13 L298.77,421.11 L299.41,420.06 L300.02,419.00 L300.60,417.91 L301.16,416.80 L301.68,415.68 L302.19,414.53 L302.67,413.37 L303.14,412.20 L303.58,411.02 L304.01,409.82 L304.42,408.62 L304.82,407.40 L305.21,406.18 L305.59,404.96 L305.95,403.73 L306.32,402.50 L306.67,401.27 L307.02,400.04 L307.37,398.81 L307.71,397.59 L308.05,396.36 L308.39,395.13 L308.72,393.91 L309.05,392.69 L309.38,391.47 L309.70,390.25 L310.02,389.03 L310.34,387.81 L310.65,386.59 L310.96,385.37 L311.27,384.15 L311.58,382.94 L311.88,381.72 L312.18,380.50 L312.48,379.29 L312.78,378.07 L313.07,376.86 L313.37,375.64 L313.66,374.43 L313.95,373.21 L314.23,372.00 L314.52,370.78 L314.80,369.57 L315.09,368.35 L315.37,367.14 L315.65,365.92 L315.92,364.71 L316.20,363.49 L316.48,362.27 L316.75,361.06 L317.03,359.84 L317.30,358.62 L317.58,357.40 L317.85,356.18 L318.12,354.96 L318.39,353.74 L318.66,352.52 L318.93,351.30 L319.20,350.08 L319.47,348.85 L319.73,347.63 L320.00,346.41 L320.26,345.18 L320.53,343.96 L320.79,342.73 L321.05,341.50 L321.31,340.28 L321.57,339.05 L321.83,337.82 L322.09,336.60 L322.34,335.37 L322.60,334.14 L322.85,332.91 L323.10,331.68 L323.36,330.45 L323.61,329.22 L323.86,327.99 L324.10,326.76 L324.35,325.53 L324.59,324.30 L324.84,323.07 L325.08,321.83 L325.32,320.60 L325.56,319.37 L325.80,318.14 L326.04,316.91 L326.27,315.67 L326.50,314.44 L326.74,313.21 L326.97,311.97 L327.20,310.74 L327.42,309.51 L327.65,308.27 L327.87,307.04 L328.10,305.80 L328.32,304.57 L328.54,303.34 L328.76,302.10 L328.98,300.87 L329.20,299.63 L329.41,298.40 L329.63,297.16 L329.85,295.93 L330.06,294.69 L330.27,293.46 L330.48,292.22 L330.70,290.98 L330.91,289.75 L331.12,288.51 L331.33,287.28 L331.53,286.04 L331.74,284.81 L331.95,283.57 L332.16,282.33 L332.36,281.10 L332.57,279.86 L332.78,278.62 L332.98,277.39 L333.19,276.15 L333.39,274.92 L333.60,273.68 L333.80,272.44 L334.01,271.21 L334.21,269.97 L334.42,268.73 L334.62,267.50 L334.83,266.26 L335.03,265.02 L335.24,263.79 L335.44,262.55 L335.65,261.31 L335.85,260.08 L336.06,258.84 L336.27,257.60 L336.47,256.37 L336.68,255.13 L336.89,253.89 L337.09,252.66 L337.30,251.42 L337.51,250.18 L337.71,248.95 L337.92,247.71 L338.13,246.47 L338.34,245.24 L338.55,244.00 L338.76,242.76 L338.97,241.53 L339.18,240.29 L339.39,239.05 L339.60,237.82 L339.81,236.58 L340.02,235.34 L340.23,234.11 L340.44,232.87 L340.65,231.63 L340.86,230.40 L341.08,229.16 L341.29,227.93 L341.50,226.69 L341.72,225.45 L341.93,224.22 L342.14,222.98 L342.36,221.75 L342.57,220.51 L342.79,219.28 L343.01,218.04 L343.22,216.80 L343.44,215.57 L343.66,214.33 L343.88,213.10 L344.09,211.86 L344.31,210.63 L344.53,209.39 L344.75,208.16 L344.97,206.92 L345.19,205.69 L345.42,204.45 L345.64,203.22 L345.86,201.98 L346.08,200.75 L346.31,199.51 L346.53,198.28 L346.76,197.05 L346.98,195.81 L347.21,194.58 L347.43,193.34 L347.66,192.11 L347.89,190.88 L348.12,189.64 L348.35,188.41 L348.58,187.18 L348.81,185.94 L349.04,184.71 L349.27,183.48 L349.50,182.25 L349.73,181.01 L349.97,179.78 L350.20,178.55 L350.44,177.32 L350.67,176.08 L350.91,174.85 L351.14,173.62 L351.38,172.39 L351.62,171.16 L351.86,169.93 L352.10,168.69 L352.34,167.46 L352.58,166.23 L352.82,165.00 L353.07,163.77 L353.31,162.54 L353.56,161.31 L353.81,160.08 L354.05,158.85 L354.30,157.62 L354.56,156.40 L354.81,155.17 L355.06,153.94 L355.32,152.71 L355.58,151.49 L355.84,150.26 L356.10,149.03 L356.36,147.81 L356.63,146.58 L356.90,145.36 L357.17,144.14 L357.44,142.91 L357.72,141.69 L358.00,140.47 L358.28,139.25 L358.56,138.03 L358.85,136.81 L359.14,135.59 L359.43,134.37 L359.72,133.16 L360.02,131.94 L360.32,130.72 L360.63,129.51 L360.94,128.30 L361.25,127.08 L361.56,125.87 L361.88,124.66 L362.20,123.45 L362.53,122.24 L362.85,121.03 L363.19,119.83 L363.52,118.62 L363.86,117.42 L364.21,116.21 L364.56,115.01 L364.91,113.81 L365.27,112.61 L365.63,111.41 L366.00,110.21 L366.37,109.02 L366.74,107.82 L367.12,106.63 L367.51,105.44 L367.90,104.24 L368.29,103.05 L368.69,101.87 L369.10,100.68 L369.51,99.49 L369.92,98.31 L370.34,97.13 L370.77,95.95 L371.20,94.77 L371.63,93.59 L372.08,92.41 L372.52,91.24 L372.98,90.06 L373.44,88.89 L373.90,87.72 L374.38,86.56 L374.86,85.40 L375.36,84.24 L375.86,83.08 L376.38,81.94 L376.90,80.79 L377.44,79.66 L378.00,78.53 L378.57,77.41 L379.15,76.30 L379.76,75.19 L380.38,74.10 L381.01,73.01 L381.67,71.94 L382.35,70.87 L383.05,69.82 L383.77,68.78 L384.51,67.76 L385.28,66.74 L386.06,65.75 L386.87,64.77 L387.70,63.80 L388.55,62.86 L389.42,61.94 L390.31,61.04 L391.22,60.17 L392.15,59.32 L393.10,58.49 L394.07,57.70 L395.05,56.93 L396.05,56.20 L397.07,55.49 L398.10,54.83 L399.15,54.19 L400.22,53.59 L401.30,53.02 L402.39,52.49 L403.50,51.98 L404.62,51.51 L405.76,51.06 L406.91,50.64 L408.06,50.25 L409.23,49.88 L410.41,49.54 L411.60,49.22 L412.80,48.93 L414.01,48.65 L415.23,48.40 L416.45,48.17 L417.68,47.95 L418.92,47.76 L420.16,47.58 L421.41,47.41 L422.67,47.26 L423.93,47.12 L425.19,47.00 L426.45,46.89 L427.72,46.79 L428.99,46.69 L430.26,46.61 L431.54,46.53 L432.81,46.46 L434.08,46.40 L435.36,46.34 L436.63,46.28 L437.90,46.23 L439.17,46.18 L440.44,46.13 L441.70,46.09 L442.97,46.05 L444.24,46.01 L445.50,45.98 L446.76,45.94 L448.02,45.91 L449.29,45.89 L450.55,45.86 L451.80,45.84 L453.06,45.82 L454.32,45.80 L455.58,45.78 L456.83,45.77 L458.09,45.76 L459.34,45.75 L460.60,45.74 L461.85,45.73 L463.10,45.73 L464.35,45.72 L465.61,45.72 L466.86,45.72 L468.11,45.72 L469.36,45.72 L470.61,45.72 L471.86,45.72 L473.10,45.72 L474.35,45.72 L475.60,45.72 L476.85,45.72 L478.10,45.72 L479.34,45.72 L480.59,45.72 L481.84,45.72 L483.09,45.72 L484.33,45.72 L485.58,45.72 L486.83,45.72 L488.07,45.72 L489.32,45.72 L490.57,45.72 L491.82,45.72 L493.06,45.72 L494.31,45.72 L495.56,45.72 L496.81,45.72 L498.06,45.72 L499.31,45.72 L500.55,45.72 L501.80,45.72 L503.05,45.72 L504.30,45.72 L505.55,45.72 L506.81,45.72 L508.06,45.72 L509.31,45.72 L510.56,45.72 L511.82,45.72 L513.07,45.72 L514.33,45.72 L515.58,45.72 L516.84,45.72 L518.10,45.72 L519.35,45.72 L520.61,45.72 L521.87,45.72 L523.13,45.72 L524.39,45.72 L525.66,45.72 L526.92,45.72 L528.18,45.72 L529.45,45.72 L530.72,45.72 L531.99,45.70 L533.25,45.66 L534.52,45.62 L535.80,45.58 L537.07,45.53 L538.34,45.48 L539.50,45.43" stroke="#a3a3a3"/><path d="M80.54,440.00 L81.81,440.00 L83.08,440.00 L84.35,440.00 L85.62,440.00 L86.89,440.00 L88.16,440.00 L89.43,440.00 L90.71,440.00 L91.98,439.99 L93.25,439.98 L94.52,439.97 L95.80,439.96 L97.07,439.95 L98.34,439.94 L99.62,439.93 L100.89,439.93 L102.16,439.92 L103.44,439.92 L104.71,439.91 L105.99,439.91 L107.26,439.91 L108.54,439.90 L109.81,439.90 L111.09,439.90 L112.36,439.90 L113.64,439.90 L114.92,439.90 L116.19,439.90 L117.47,439.90 L118.74,439.90 L120.02,439.90 L121.30,439.90 L122.57,439.90 L123.85,439.90 L125.13,439.90 L126.40,439.90 L127.68,439.90 L128.96,439.90 L130.24,439.90 L131.51,439.90 L132.79,439.90 L134.07,439.90 L135.34,439.90 L136.62,439.90 L137.90,439.90 L139.18,439.90 L140.45,439.90 L141.73,439.90 L143.01,439.90 L144.29,439.90 L145.57,439.90 L146.84,439.90 L148.12,439.90 L149.40,439.90 L150.68,439.90 L151.95,439.90 L153.23,439.90 L154.51,439.90 L155.79,439.90 L157.06,439.90 L158.34,439.90 L159.62,439.90 L160.89,439.90 L162.17,439.90 L163.45,439.90 L164.73,439.90 L166.00,439.90 L167.28,439.90 L168.56,439.90 L169.83,439.90 L171.11,439.90 L172.38,439.90 L173.66,439.90 L174.94,439.90 L176.21,439.90 L177.49,439.90 L178.76,439.90 L180.04,439.90 L181.31,439.90 L182.59,439.90 L183.86,439.90 L185.14,439.90 L186.41,439.90 L187.68,439.90 L188.96,439.90 L190.23,439.90 L191.51,439.90 L192.78,439.90 L194.05,439.90 L195.32,439.90 L196.60,439.90 L197.87,439.90 L199.14,439.90 L200.41,439.90 L201.69,439.90 L202.96,439.90 L204.23,439.90 L205.50,439.90 L206.77,439.90 L208.04,439.90 L209.31,439.89 L210.59,439.88 L211.86,439.86 L213.13,439.85 L214.40,439.83 L215.67,439.82 L216.94,439.81 L218.22,439.79 L219.49,439.78 L220.76,439.77 L222.03,439.76 L223.30,439.75 L224.58,439.74 L225.85,439.73 L227.12,439.73 L228.40,439.72 L229.67,439.72 L230.95,439.72 L232.22,439.71 L233.49,439.71 L234.77,439.71 L236.05,439.71 L237.32,439.71 L238.60,439.71 L239.88,439.71 L241.15,439.71 L242.43,439.71 L243.71,439.71 L244.99,439.71 L246.27,439.71 L247.55,439.71 L248.83,439.71 L250.11,439.71 L251.39,439.71 L252.67,439.71 L253.96,439.71 L255.24,439.71 L256.53,439.71 L257.81,439.71 L259.10,439.71 L260.38,439.71 L261.67,439.71 L262.95,439.71 L264.24,439.71 L265.52,439.71 L266.81,439.71 L268.09,439.71 L269.38,439.71 L270.66,439.71 L271.95,439.71 L273.23,439.71 L274.51,439.71 L275.79,439.71 L277.08,439.71 L278.36,439.71 L279.64,439.71 L280.91,439.71 L282.19,439.71 L283.47,439.71 L284.74,439.71 L286.02,439.71 L287.29,439.71 L288.56,439.71 L289.83,439.71 L291.09,439.71 L292.36,439.68 L293.62,439.53 L294.89,439.36 L296.15,439.18 L297.40,438.98 L298.66,438.77 L299.91,438.54 L301.17,438.29 L302.41,438.02 L303.65,437.73 L304.88,437.41 L306.09,437.07 L307.29,436.69 L308.48,436.29 L309.64,435.85 L310.77,435.37 L311.88,434.86 L312.96,434.30 L314.01,433.69 L315.02,433.04 L316.00,432.35 L316.93,431.59 L317.82,430.79 L318.67,429.93 L319.48,429.03 L320.25,428.08 L320.98,427.09 L321.68,426.06 L322.35,424.99 L322.99,423.90 L323.59,422.77 L324.18,421.62 L324.73,420.45 L325.27,419.26 L325.78,418.05 L326.28,416.83 L326.76,415.61 L327.22,414.38 L327.67,413.14 L328.11,411.91 L328.53,410.67 L328.95,409.44 L329.35,408.20 L329.75,406.97 L330.13,405.73 L330.51,404.49 L330.87,403.25 L331.22,402.02 L331.57,400.78 L331.91,399.54 L332.24,398.30 L332.56,397.06 L332.87,395.82 L333.18,394.57 L333.48,393.33 L333.77,392.09 L334.06,390.85 L334.34,389.61 L334.61,388.36 L334.88,387.12 L335.15,385.87 L335.41,384.63 L335.66,383.38 L335.92,382.14 L336.16,380.89 L336.41,379.64 L336.65,378.40 L336.89,377.15 L337.13,375.90 L337.37,374.65 L337.60,373.41 L337.83,372.16 L338.06,370.91 L338.29,369.66 L338.52,368.41 L338.75,367.16 L338.98,365.91 L339.20,364.66 L339.43,363.41 L339.65,362.15 L339.87,360.90 L340.09,359.65 L340.31,358.40 L340.53,357.14 L340.75,355.89 L340.97,354.64 L341.18,353.38 L341.40,352.13 L341.61,350.87 L341.82,349.62 L342.03,348.36 L342.24,347.11 L342.45,345.85 L342.66,344.60 L342.87,343.34 L343.08,342.08 L343.28,340.83 L343.49,339.57 L343.69,338.31 L343.89,337.05 L344.10,335.80 L344.30,334.54 L344.50,333.28 L344.70,332.02 L344.89,330.76 L345.09,329.50 L345.29,328.24 L345.48,326.98 L345.68,325.72 L345.87,324.46 L346.07,323.20 L346.26,321.94 L346.45,320.68 L346.64,319.42 L346.84,318.16 L347.03,316.90 L347.21,315.64 L347.40,314.38 L347.59,313.11 L347.78,311.85 L347.96,310.59 L348.15,309.33 L348.34,308.06 L348.52,306.80 L348.70,305.54 L348.89,304.28 L349.07,303.01 L349.25,301.75 L349.44,300.49 L349.62,299.22 L349.80,297.96 L349.98,296.70 L350.16,295.43 L350.34,294.17 L350.52,292.90 L350.69,291.64 L350.87,290.37 L351.05,289.11 L351.23,287.85 L351.40,286.58 L351.58,285.32 L351.75,284.05 L351.93,282.79 L352.10,281.52 L352.28,280.26 L352.45,278.99 L352.63,277.73 L352.80,276.46 L352.97,275.20 L353.15,273.93 L353.32,272.66 L353.49,271.40 L353.66,270.13 L353.84,268.87 L354.01,267.60 L354.18,266.34 L354.35,265.07 L354.52,263.81 L354.69,262.54 L354.86,261.27 L355.04,260.01 L355.21,258.74 L355.38,257.48 L355.55,256.21 L355.72,254.95 L355.89,253.68 L356.06,252.41 L356.23,251.15 L356.40,249.88 L356.57,248.62 L356.74,247.35 L356.91,246.09 L357.08,244.82 L357.25,243.56 L357.42,242.29 L357.60,241.03 L357.77,239.76 L357.94,238.50 L358.11,237.23 L358.28,235.97 L358.45,234.70 L358.62,233.44 L358.80,232.17 L358.97,230.91 L359.14,229.64 L359.31,228.38 L359.49,227.12 L359.66,225.85 L359.83,224.59 L360.01,223.32 L360.18,222.06 L360.36,220.80 L360.53,219.53 L360.71,218.27 L360.88,217.01 L361.06,215.74 L361.24,214.48 L361.41,213.22 L361.59,211.95 L361.77,210.69 L361.95,209.43 L362.13,208.17 L362.31,206.91 L362.49,205.64 L362.67,204.38 L362.85,203.12 L363.03,201.86 L363.21,200.60 L363.40,199.34 L363.58,198.08 L363.76,196.82 L363.95,195.56 L364.13,194.30 L364.32,193.04 L364.51,191.78 L364.70,190.52 L364.88,189.26 L365.07,188.00 L365.26,186.74 L365.45,185.49 L365.65,184.23 L365.84,182.97 L366.03,181.71 L366.23,180.45 L366.42,179.20 L366.62,177.94 L366.82,176.68 L367.02,175.43 L367.22,174.17 L367.42,172.92 L367.62,171.66 L367.83,170.41 L368.03,169.15 L368.24,167.90 L368.45,166.64 L368.66,165.39 L368.87,164.13 L369.09,162.88 L369.30,161.63 L369.52,160.37 L369.74,159.12 L369.96,157.87 L370.18,156.62 L370.41,155.37 L370.64,154.11 L370.87,152.86 L371.10,151.61 L371.33,150.36 L371.57,149.11 L371.80,147.86 L372.04,146.61 L372.29,145.36 L372.53,144.11 L372.78,142.86 L373.03,141.62 L373.28,140.37 L373.54,139.12 L373.80,137.87 L374.06,136.62 L374.32,135.38 L374.59,134.13 L374.85,132.88 L375.13,131.64 L375.40,130.39 L375.68,129.15 L375.96,127.90 L376.24,126.66 L376.53,125.41 L376.82,124.17 L377.11,122.93 L377.41,121.68 L377.71,120.44 L378.01,119.20 L378.32,117.95 L378.63,116.71 L378.94,115.47 L379.26,114.23 L379.58,112.99 L379.90,111.75 L380.23,110.51 L380.56,109.27 L380.90,108.03 L381.24,106.79 L381.58,105.55 L381.92,104.31 L382.28,103.07 L382.63,101.84 L382.99,100.60 L383.35,99.36 L383.72,98.13 L384.09,96.89 L384.46,95.65 L384.84,94.42 L385.23,93.18 L385.62,91.95 L386.01,90.72 L386.42,89.49 L386.82,88.26 L387.24,87.04 L387.67,85.83 L388.11,84.61 L388.55,83.41 L389.01,82.21 L389.48,81.02 L389.96,79.84 L390.46,78.66 L390.97,77.50 L391.49,76.35 L392.03,75.20 L392.59,74.07 L393.17,72.96 L393.76,71.85 L394.37,70.76 L395.00,69.68 L395.65,68.62 L396.32,67.58 L397.02,66.55 L397.73,65.54 L398.47,64.55 L399.23,63.57 L400.02,62.62 L400.83,61.69 L401.67,60.77 L402.54,59.88 L403.43,59.01 L404.35,58.17 L405.31,57.34 L406.29,56.55 L407.30,55.77 L408.33,55.03 L409.40,54.31 L410.48,53.62 L411.59,52.96 L412.73,52.33 L413.88,51.73 L415.04,51.16 L416.23,50.62 L417.42,50.12 L418.63,49.65 L419.86,49.22 L421.09,48.82 L422.32,48.46 L423.57,48.14 L424.82,47.86 L426.07,47.61 L427.33,47.40 L428.59,47.21 L429.85,47.06 L431.12,46.92 L432.38,46.81 L433.66,46.72 L434.93,46.64 L436.20,46.58 L437.48,46.53 L438.75,46.49 L440.03,46.45 L441.30,46.42 L442.58,46.38 L443.85,46.36 L445.13,46.33 L446.40,46.30 L447.68,46.28 L448.95,46.26 L450.23,46.24 L451.50,46.23 L452.78,46.21 L454.05,46.20 L455.33,46.19 L456.60,46.18 L457.88,46.17 L459.15,46.17 L460.42,46.16 L461.70,46.16 L462.97,46.16 L464.25,46.15 L465.52,46.15 L466.80,46.15 L468.07,46.15 L469.34,46.15 L470.62,46.15 L471.89,46.15 L473.17,46.15 L474.44,46.15 L475.72,46.15 L476.99,46.15 L478.26,46.15 L479.54,46.15 L480.81,46.15 L482.09,46.15 L483.36,46.15 L484.64,46.15 L485.91,46.15 L487.19,46.15 L488.47,46.15 L489.74,46.15 L491.02,46.15 L492.29,46.15 L493.57,46.14 L494.84,46.13 L496.12,46.12 L497.40,46.11 L498.67,46.10 L499.95,46.09 L501.23,46.08 L502.50,46.07 L503.78,46.06 L505.06,46.05 L506.33,46.04 L507.61,46.03 L508.89,46.02 L510.16,46.00 L511.44,45.99 L512.71,45.98 L513.99,45.97 L515.27,45.96 L516.54,45.95 L517.82,45.94 L519.10,45.93 L520.37,45.93 L521.65,45.92 L522.92,45.91 L524.20,45.91 L525.47,45.91 L526.75,45.90 L528.03,45.90 L529.30,45.90 L530.58,45.90 L531.85,45.90 L533.12,45.90 L534.40,45.90 L535.67,45.90 L536.95,45.90 L538.22,45.90 L539.49,45.90" stroke="#e5b93a"/><path d="M80.50,440.00 L81.78,440.00 L83.07,440.00 L84.35,440.00 L85.64,440.00 L86.92,440.00 L88.21,440.00 L89.49,440.00 L90.78,440.00 L92.06,440.00 L93.35,439.99 L94.63,439.98 L95.92,439.97 L97.20,439.97 L98.49,439.96 L99.77,439.96 L101.06,439.95 L102.34,439.95 L103.63,439.94 L104.91,439.94 L106.20,439.94 L107.48,439.94 L108.77,439.93 L110.05,439.93 L111.34,439.93 L112.62,439.93 L113.91,439.93 L115.19,439.93 L116.47,439.93 L117.76,439.93 L119.04,439.93 L120.33,439.93 L121.61,439.93 L122.90,439.93 L124.18,439.93 L125.47,439.93 L126.75,439.93 L128.04,439.93 L129.32,439.93 L130.61,439.93 L131.89,439.93 L133.18,439.93 L134.46,439.93 L135.75,439.93 L137.03,439.93 L138.32,439.93 L139.60,439.93 L140.88,439.93 L142.17,439.93 L143.45,439.93 L144.74,439.93 L146.02,439.93 L147.31,439.93 L148.59,439.93 L149.88,439.93 L151.16,439.93 L152.45,439.93 L153.73,439.93 L155.02,439.93 L156.30,439.93 L157.59,439.93 L158.87,439.93 L160.16,439.93 L161.44,439.93 L162.72,439.93 L164.01,439.93 L165.29,439.93 L166.58,439.93 L167.86,439.93 L169.15,439.93 L170.43,439.93 L171.72,439.93 L173.00,439.93 L174.29,439.93 L175.57,439.93 L176.86,439.93 L178.14,439.93 L179.43,439.93 L180.71,439.93 L182.00,439.93 L183.28,439.93 L184.57,439.93 L185.85,439.93 L187.14,439.93 L188.42,439.93 L189.71,439.93 L190.99,439.93 L192.28,439.93 L193.56,439.93 L194.85,439.93 L196.13,439.93 L197.42,439.93 L198.70,439.93 L199.99,439.93 L201.27,439.93 L202.56,439.93 L203.84,439.93 L205.13,439.93 L206.41,439.93 L207.70,439.93 L208.98,439.93 L210.27,439.93 L211.55,439.93 L212.84,439.93 L214.12,439.93 L215.41,439.92 L216.69,439.91 L217.98,439.90 L219.26,439.88 L220.55,439.87 L221.83,439.87 L223.12,439.86 L224.40,439.85 L225.69,439.84 L226.97,439.83 L228.26,439.82 L229.54,439.82 L230.82,439.81 L232.11,439.81 L233.39,439.80 L234.68,439.80 L235.96,439.80 L237.25,439.80 L238.53,439.80 L239.82,439.80 L241.10,439.80 L242.38,439.80 L243.67,439.80 L244.95,439.80 L246.24,439.80 L247.52,439.80 L248.80,439.80 L250.09,439.80 L251.37,439.80 L252.66,439.80 L253.94,439.80 L255.22,439.80 L256.51,439.80 L257.79,439.80 L259.07,439.80 L260.35,439.80 L261.64,439.80 L262.92,439.80 L264.20,439.80 L265.49,439.80 L266.77,439.80 L268.05,439.80 L269.34,439.80 L270.62,439.80 L271.90,439.80 L273.19,439.80 L274.47,439.80 L275.76,439.80 L277.04,439.80 L278.33,439.80 L279.61,439.80 L280.90,439.80 L282.18,439.80 L283.47,439.80 L284.75,439.80 L286.04,439.80 L287.33,439.80 L288.62,439.80 L289.90,439.80 L291.19,439.80 L292.48,439.80 L293.77,439.80 L295.06,439.80 L296.35,439.80 L297.64,439.80 L298.93,439.80 L300.23,439.80 L301.52,439.80 L302.81,439.75 L304.11,439.65 L305.40,439.54 L306.70,439.43 L308.00,439.30 L309.29,439.17 L310.59,439.02 L311.89,438.86 L313.18,438.69 L314.46,438.49 L315.74,438.27 L317.00,438.02 L318.24,437.74 L319.46,437.43 L320.66,437.07 L321.84,436.68 L322.99,436.23 L324.10,435.74 L325.18,435.20 L326.23,434.59 L327.23,433.93 L328.19,433.21 L329.11,432.42 L329.99,431.58 L330.83,430.69 L331.63,429.75 L332.39,428.77 L333.11,427.74 L333.80,426.68 L334.44,425.58 L335.05,424.45 L335.62,423.30 L336.16,422.12 L336.66,420.93 L337.13,419.72 L337.57,418.49 L337.98,417.25 L338.36,416.00 L338.72,414.74 L339.06,413.48 L339.39,412.20 L339.70,410.92 L340.00,409.63 L340.29,408.35 L340.58,407.06 L340.87,405.77 L341.16,404.49 L341.45,403.20 L341.74,401.93 L342.05,400.66 L342.37,399.40 L342.70,398.14 L343.05,396.90 L343.40,395.66 L343.76,394.43 L344.14,393.20 L344.51,391.98 L344.89,390.76 L345.28,389.54 L345.66,388.33 L346.05,387.12 L346.43,385.91 L346.81,384.70 L347.19,383.49 L347.56,382.27 L347.92,381.06 L348.27,379.84 L348.61,378.62 L348.95,377.39 L349.27,376.16 L349.59,374.93 L349.89,373.69 L350.19,372.45 L350.48,371.21 L350.77,369.97 L351.04,368.72 L351.31,367.47 L351.57,366.22 L351.83,364.97 L352.08,363.71 L352.32,362.45 L352.55,361.19 L352.78,359.93 L353.01,358.67 L353.23,357.40 L353.44,356.14 L353.65,354.87 L353.85,353.60 L354.05,352.33 L354.25,351.06 L354.44,349.79 L354.63,348.51 L354.81,347.24 L355.00,345.96 L355.17,344.69 L355.35,343.41 L355.52,342.13 L355.70,340.86 L355.87,339.58 L356.03,338.30 L356.20,337.02 L356.36,335.75 L356.53,334.47 L356.69,333.19 L356.85,331.91 L357.01,330.64 L357.16,329.36 L357.32,328.08 L357.48,326.80 L357.63,325.53 L357.78,324.25 L357.93,322.97 L358.09,321.69 L358.24,320.41 L358.39,319.14 L358.53,317.86 L358.68,316.58 L358.83,315.30 L358.98,314.02 L359.12,312.75 L359.27,311.47 L359.42,310.19 L359.56,308.91 L359.71,307.64 L359.86,306.36 L360.00,305.08 L360.15,303.81 L360.30,302.53 L360.44,301.25 L360.59,299.98 L360.74,298.70 L360.89,297.42 L361.03,296.15 L361.18,294.87 L361.33,293.60 L361.48,292.32 L361.63,291.05 L361.79,289.77 L361.94,288.50 L362.09,287.22 L362.25,285.95 L362.40,284.67 L362.56,283.40 L362.71,282.13 L362.87,280.85 L363.03,279.58 L363.19,278.31 L363.35,277.03 L363.51,275.76 L363.67,274.49 L363.83,273.21 L363.99,271.94 L364.15,270.67 L364.31,269.40 L364.48,268.13 L364.64,266.85 L364.81,265.58 L364.97,264.31 L365.14,263.04 L365.30,261.77 L365.47,260.49 L365.63,259.22 L365.80,257.95 L365.97,256.68 L366.14,255.41 L366.31,254.14 L366.47,252.86 L366.64,251.59 L366.81,250.32 L366.98,249.05 L367.15,247.78 L367.32,246.51 L367.50,245.23 L367.67,243.96 L367.84,242.69 L368.01,241.42 L368.18,240.15 L368.35,238.88 L368.53,237.60 L368.70,236.33 L368.87,235.06 L369.05,233.79 L369.22,232.52 L369.39,231.24 L369.57,229.97 L369.74,228.70 L369.91,227.43 L370.09,226.15 L370.26,224.88 L370.44,223.61 L370.61,222.33 L370.79,221.06 L370.96,219.79 L371.14,218.51 L371.31,217.24 L371.48,215.97 L371.66,214.69 L371.83,213.42 L372.01,212.14 L372.18,210.87 L372.36,209.59 L372.53,208.32 L372.71,207.04 L372.88,205.77 L373.06,204.49 L373.23,203.22 L373.40,201.94 L373.58,200.66 L373.75,199.39 L373.92,198.11 L374.10,196.83 L374.27,195.56 L374.44,194.28 L374.62,193.00 L374.79,191.72 L374.96,190.44 L375.14,189.16 L375.31,187.88 L375.48,186.61 L375.66,185.33 L375.83,184.05 L376.00,182.77 L376.18,181.49 L376.36,180.21 L376.53,178.94 L376.71,177.66 L376.89,176.38 L377.07,175.11 L377.25,173.83 L377.43,172.55 L377.62,171.28 L377.80,170.00 L377.99,168.73 L378.18,167.46 L378.37,166.19 L378.56,164.91 L378.76,163.64 L378.95,162.37 L379.15,161.11 L379.35,159.84 L379.56,158.57 L379.76,157.31 L379.97,156.04 L380.18,154.78 L380.39,153.52 L380.61,152.26 L380.83,151.00 L381.05,149.74 L381.27,148.49 L381.50,147.23 L381.73,145.98 L381.97,144.73 L382.20,143.48 L382.45,142.23 L382.69,140.99 L382.94,139.74 L383.19,138.50 L383.44,137.26 L383.69,136.01 L383.95,134.77 L384.21,133.53 L384.47,132.29 L384.74,131.05 L385.00,129.81 L385.27,128.57 L385.54,127.32 L385.81,126.08 L386.08,124.84 L386.35,123.60 L386.63,122.35 L386.90,121.11 L387.18,119.86 L387.45,118.61 L387.73,117.36 L388.01,116.11 L388.28,114.86 L388.56,113.60 L388.84,112.34 L389.12,111.08 L389.39,109.82 L389.67,108.56 L389.95,107.29 L390.22,106.02 L390.50,104.75 L390.77,103.47 L391.05,102.19 L391.32,100.91 L391.60,99.63 L391.88,98.34 L392.16,97.06 L392.45,95.78 L392.74,94.50 L393.04,93.22 L393.35,91.95 L393.66,90.67 L393.98,89.41 L394.32,88.15 L394.66,86.89 L395.02,85.64 L395.39,84.40 L395.77,83.16 L396.17,81.93 L396.58,80.71 L397.01,79.51 L397.45,78.31 L397.92,77.12 L398.40,75.95 L398.90,74.78 L399.42,73.63 L399.97,72.50 L400.54,71.38 L401.13,70.27 L401.74,69.18 L402.38,68.11 L403.05,67.05 L403.74,66.01 L404.46,64.99 L405.21,63.99 L405.99,63.01 L406.80,62.05 L407.64,61.11 L408.51,60.19 L409.41,59.29 L410.33,58.42 L411.28,57.57 L412.25,56.75 L413.25,55.95 L414.27,55.17 L415.31,54.42 L416.37,53.70 L417.45,53.00 L418.55,52.34 L419.67,51.70 L420.80,51.09 L421.95,50.50 L423.12,49.95 L424.30,49.43 L425.49,48.94 L426.70,48.48 L427.91,48.05 L429.14,47.66 L430.37,47.30 L431.61,46.97 L432.86,46.68 L434.12,46.43 L435.38,46.21 L436.65,46.02 L437.92,45.86 L439.20,45.73 L440.48,45.63 L441.76,45.56 L443.04,45.50 L444.33,45.47 L445.62,45.45 L446.92,45.45 L448.21,45.45 L449.51,45.45 L450.80,45.45 L452.10,45.45 L453.40,45.45 L454.70,45.45 L456.00,45.45 L457.29,45.45 L458.59,45.45 L459.88,45.45 L461.18,45.45 L462.47,45.45 L463.76,45.45 L465.04,45.45 L466.33,45.45 L467.61,45.45 L468.90,45.45 L470.18,45.45 L471.46,45.45 L472.74,45.45 L474.02,45.45 L475.30,45.45 L476.58,45.45 L477.86,45.45 L479.14,45.45 L480.42,45.45 L481.70,45.45 L482.98,45.45 L484.25,45.45 L485.53,45.45 L486.81,45.42 L488.09,45.40 L489.38,45.37 L490.66,45.35 L491.94,45.33 L493.22,45.32 L494.51,45.30 L495.79,45.29 L497.08,45.29 L498.36,45.28 L499.65,45.28 L500.93,45.28 L502.22,45.28 L503.51,45.28 L504.79,45.28 L506.08,45.28 L507.37,45.28 L508.65,45.28 L509.94,45.28 L511.23,45.28 L512.52,45.28 L513.80,45.28 L515.09,45.28 L516.38,45.28 L517.67,45.28 L518.95,45.28 L520.24,45.28 L521.53,45.28 L522.81,45.28 L524.10,45.28 L525.38,45.28 L526.67,45.28 L527.95,45.28 L529.24,45.28 L530.52,45.28 L531.80,45.28 L533.09,45.28 L534.37,45.25 L535.65,45.23 L536.93,45.20 L538.21,45.16 L539.48,45.13" stroke="#466aaa"/><path d="M80.50,439.91 L81.71,439.91 L83.01,439.91 L84.31,439.91 L85.61,439.91 L86.91,439.91 L88.22,439.91 L89.52,439.91 L90.82,439.91 L92.12,439.91 L93.42,439.91 L94.72,439.91 L96.02,439.91 L97.32,439.91 L98.61,439.91 L99.91,439.91 L101.21,439.91 L102.51,439.91 L103.81,439.91 L105.11,439.91 L106.40,439.91 L107.70,439.91 L109.00,439.91 L110.30,439.91 L111.59,439.91 L112.89,439.91 L114.19,439.91 L115.48,439.91 L116.78,439.91 L118.07,439.91 L119.37,439.91 L120.67,439.91 L121.96,439.91 L123.26,439.91 L124.55,439.91 L125.85,439.91 L127.14,439.91 L128.44,439.91 L129.73,439.91 L131.03,439.91 L132.32,439.91 L133.62,439.91 L134.91,439.91 L136.20,439.91 L137.50,439.91 L138.79,439.91 L140.08,439.91 L141.38,439.91 L142.67,439.91 L143.97,439.91 L145.26,439.91 L146.55,439.91 L147.84,439.91 L149.14,439.91 L150.43,439.91 L151.72,439.91 L153.02,439.91 L154.31,439.91 L155.60,439.91 L156.89,439.91 L158.19,439.91 L159.48,439.91 L160.77,439.91 L162.06,439.91 L163.35,439.91 L164.65,439.91 L165.94,439.91 L167.23,439.91 L168.52,439.91 L169.81,439.91 L171.11,439.91 L172.40,439.91 L173.69,439.91 L174.98,439.91 L176.27,439.91 L177.56,439.91 L178.86,439.91 L180.15,439.91 L181.44,439.91 L182.73,439.91 L184.02,439.91 L185.31,439.91 L186.61,439.91 L187.90,439.91 L189.19,439.91 L190.48,439.91 L191.77,439.91 L193.06,439.91 L194.36,439.91 L195.65,439.91 L196.94,439.91 L198.23,439.91 L199.52,439.91 L200.81,439.91 L202.11,439.91 L203.40,439.91 L204.69,439.91 L205.98,439.91 L207.27,439.91 L208.57,439.91 L209.86,439.91 L211.15,439.91 L212.44,439.91 L213.74,439.91 L215.03,439.91 L216.32,439.91 L217.61,439.91 L218.91,439.91 L220.20,439.91 L221.49,439.91 L222.78,439.91 L224.08,439.91 L225.37,439.91 L226.66,439.91 L227.96,439.91 L229.25,439.91 L230.54,439.91 L231.84,439.91 L233.13,439.91 L234.43,439.91 L235.72,439.91 L237.01,439.91 L238.31,439.91 L239.60,439.91 L240.90,439.91 L242.19,439.91 L243.49,439.91 L244.78,439.91 L246.08,439.91 L247.37,439.91 L248.67,439.91 L249.96,439.91 L251.26,439.91 L252.56,439.91 L253.85,439.91 L255.15,439.91 L256.45,439.91 L257.74,439.91 L259.04,439.91 L260.34,439.91 L261.63,439.91 L262.93,439.91 L264.23,439.91 L265.53,439.91 L266.82,439.91 L268.12,439.91 L269.42,439.91 L270.72,439.91 L272.02,439.91 L273.32,439.91 L274.62,439.91 L275.92,439.91 L277.22,439.91 L278.52,439.91 L279.82,439.91 L281.12,439.91 L282.42,439.91 L283.72,439.91 L285.02,439.91 L286.32,439.91 L287.63,439.91 L288.93,439.91 L290.23,439.91 L291.53,439.91 L292.84,439.91 L294.14,439.91 L295.44,439.91 L296.75,439.91 L298.05,439.91 L299.35,439.91 L300.66,439.91 L301.96,439.91 L303.27,439.91 L304.58,439.91 L305.88,439.91 L307.19,439.91 L308.49,439.91 L309.80,439.91 L311.10,439.91 L312.40,439.91 L313.70,439.91 L314.99,439.91 L316.28,439.91 L317.57,439.91 L318.85,439.91 L320.13,439.83 L321.40,439.68 L322.67,439.51 L323.93,439.31 L325.19,439.08 L326.43,438.81 L327.67,438.51 L328.90,438.18 L330.12,437.81 L331.31,437.39 L332.49,436.94 L333.64,436.45 L334.77,435.91 L335.86,435.33 L336.93,434.70 L337.95,434.03 L338.94,433.30 L339.89,432.53 L340.79,431.70 L341.64,430.83 L342.46,429.92 L343.23,428.96 L343.95,427.95 L344.63,426.91 L345.27,425.83 L345.86,424.72 L346.43,423.57 L346.96,422.40 L347.45,421.20 L347.92,419.98 L348.36,418.74 L348.78,417.49 L349.18,416.22 L349.56,414.94 L349.92,413.65 L350.27,412.36 L350.60,411.07 L350.93,409.78 L351.25,408.50 L351.56,407.21 L351.87,405.94 L352.17,404.66 L352.46,403.38 L352.75,402.11 L353.03,400.84 L353.31,399.57 L353.58,398.31 L353.84,397.04 L354.11,395.78 L354.37,394.51 L354.62,393.25 L354.87,391.98 L355.12,390.72 L355.36,389.45 L355.60,388.18 L355.84,386.92 L356.08,385.65 L356.31,384.38 L356.54,383.11 L356.77,381.84 L356.99,380.57 L357.21,379.30 L357.43,378.03 L357.65,376.75 L357.86,375.48 L358.07,374.21 L358.28,372.93 L358.49,371.66 L358.69,370.38 L358.89,369.11 L359.09,367.83 L359.29,366.55 L359.48,365.28 L359.68,364.00 L359.87,362.72 L360.06,361.44 L360.24,360.16 L360.43,358.88 L360.61,357.60 L360.79,356.32 L360.97,355.04 L361.15,353.76 L361.32,352.48 L361.50,351.19 L361.67,349.91 L361.84,348.63 L362.01,347.34 L362.18,346.06 L362.34,344.78 L362.51,343.49 L362.67,342.21 L362.84,340.92 L363.00,339.64 L363.16,338.35 L363.32,337.07 L363.47,335.78 L363.63,334.50 L363.78,333.21 L363.94,331.93 L364.09,330.64 L364.25,329.35 L364.40,328.07 L364.55,326.78 L364.70,325.49 L364.85,324.21 L365.00,322.92 L365.15,321.63 L365.29,320.35 L365.44,319.06 L365.59,317.77 L365.74,316.49 L365.88,315.20 L366.03,313.91 L366.17,312.62 L366.32,311.34 L366.46,310.05 L366.61,308.76 L366.75,307.48 L366.90,306.19 L367.04,304.90 L367.19,303.62 L367.33,302.33 L367.48,301.05 L367.63,299.76 L367.77,298.47 L367.92,297.19 L368.06,295.90 L368.21,294.62 L368.36,293.33 L368.50,292.05 L368.65,290.76 L368.80,289.48 L368.95,288.19 L369.09,286.91 L369.24,285.62 L369.39,284.34 L369.54,283.05 L369.69,281.77 L369.84,280.49 L369.99,279.20 L370.13,277.92 L370.28,276.64 L370.43,275.35 L370.58,274.07 L370.73,272.78 L370.89,271.50 L371.04,270.22 L371.19,268.93 L371.34,267.65 L371.49,266.37 L371.64,265.08 L371.79,263.80 L371.94,262.52 L372.10,261.23 L372.25,259.95 L372.40,258.67 L372.55,257.38 L372.71,256.10 L372.86,254.82 L373.01,253.54 L373.17,252.25 L373.32,250.97 L373.47,249.68 L373.63,248.40 L373.78,247.12 L373.94,245.83 L374.09,244.55 L374.25,243.27 L374.40,241.98 L374.55,240.70 L374.71,239.42 L374.87,238.13 L375.02,236.85 L375.18,235.56 L375.33,234.28 L375.49,232.99 L375.64,231.71 L375.80,230.43 L375.96,229.14 L376.11,227.86 L376.27,226.57 L376.42,225.29 L376.58,224.00 L376.74,222.71 L376.89,221.43 L377.05,220.14 L377.21,218.86 L377.37,217.57 L377.52,216.28 L377.68,215.00 L377.84,213.71 L378.00,212.42 L378.15,211.14 L378.31,209.85 L378.47,208.56 L378.63,207.27 L378.79,205.98 L378.94,204.70 L379.10,203.41 L379.26,202.12 L379.42,200.83 L379.58,199.54 L379.74,198.25 L379.90,196.96 L380.06,195.67 L380.22,194.38 L380.38,193.10 L380.54,191.81 L380.70,190.52 L380.87,189.23 L381.03,187.94 L381.20,186.65 L381.36,185.36 L381.53,184.08 L381.70,182.79 L381.87,181.50 L382.04,180.22 L382.21,178.93 L382.38,177.65 L382.55,176.36 L382.73,175.08 L382.91,173.79 L383.08,172.51 L383.26,171.23 L383.44,169.95 L383.63,168.67 L383.81,167.39 L384.00,166.11 L384.19,164.83 L384.38,163.55 L384.57,162.28 L384.76,161.00 L384.96,159.73 L385.16,158.46 L385.36,157.18 L385.56,155.91 L385.77,154.64 L385.98,153.38 L386.19,152.11 L386.40,150.84 L386.61,149.58 L386.83,148.31 L387.05,147.05 L387.27,145.79 L387.49,144.53 L387.71,143.26 L387.94,142.00 L388.16,140.74 L388.39,139.48 L388.62,138.22 L388.85,136.96 L389.08,135.70 L389.32,134.43 L389.55,133.17 L389.79,131.91 L390.02,130.65 L390.26,129.38 L390.50,128.12 L390.74,126.85 L390.98,125.59 L391.22,124.32 L391.46,123.05 L391.70,121.78 L391.94,120.51 L392.18,119.24 L392.42,117.97 L392.66,116.69 L392.90,115.41 L393.14,114.14 L393.39,112.86 L393.63,111.57 L393.87,110.29 L394.11,109.00 L394.35,107.71 L394.59,106.42 L394.83,105.13 L395.07,103.84 L395.32,102.54 L395.57,101.25 L395.83,99.96 L396.09,98.67 L396.35,97.38 L396.63,96.09 L396.91,94.81 L397.20,93.53 L397.50,92.26 L397.81,90.99 L398.13,89.72 L398.46,88.46 L398.81,87.21 L399.17,85.96 L399.54,84.72 L399.93,83.48 L400.34,82.26 L400.76,81.04 L401.20,79.84 L401.65,78.64 L402.13,77.45 L402.63,76.27 L403.15,75.11 L403.69,73.95 L404.25,72.81 L404.83,71.68 L405.44,70.57 L406.08,69.46 L406.74,68.38 L407.43,67.30 L408.14,66.25 L408.88,65.20 L409.65,64.18 L410.45,63.17 L411.27,62.19 L412.11,61.22 L412.98,60.27 L413.87,59.35 L414.79,58.45 L415.72,57.57 L416.68,56.71 L417.67,55.89 L418.67,55.08 L419.69,54.31 L420.73,53.57 L421.79,52.85 L422.87,52.17 L423.97,51.51 L425.09,50.89 L426.22,50.30 L427.36,49.75 L428.53,49.23 L429.71,48.75 L430.90,48.30 L432.11,47.89 L433.33,47.52 L434.56,47.20 L435.81,46.91 L437.06,46.65 L438.33,46.44 L439.61,46.25 L440.89,46.09 L442.18,45.97 L443.48,45.86 L444.79,45.79 L446.10,45.73 L447.42,45.69 L448.74,45.66 L450.06,45.66 L451.38,45.66 L452.71,45.66 L454.04,45.66 L455.36,45.66 L456.69,45.66 L458.01,45.66 L459.33,45.66 L460.65,45.66 L461.96,45.66 L463.26,45.66 L464.57,45.66 L465.87,45.66 L467.17,45.66 L468.46,45.66 L469.75,45.66 L471.04,45.66 L472.33,45.66 L473.62,45.66 L474.90,45.66 L476.19,45.66 L477.47,45.66 L478.75,45.66 L480.03,45.66 L481.31,45.66 L482.59,45.63 L483.87,45.61 L485.16,45.58 L486.44,45.56 L487.72,45.54 L489.01,45.52 L490.29,45.50 L491.58,45.48 L492.87,45.47 L494.16,45.45 L495.45,45.44 L496.75,45.43 L498.04,45.41 L499.33,45.40 L500.63,45.40 L501.92,45.39 L503.22,45.38 L504.52,45.37 L505.82,45.37 L507.12,45.36 L508.41,45.36 L509.71,45.35 L511.01,45.35 L512.31,45.35 L513.61,45.34 L514.91,45.34 L516.21,45.34 L517.51,45.33 L518.81,45.33 L520.10,45.33 L521.40,45.32 L522.70,45.32 L524.00,45.31 L525.29,45.31 L526.59,45.30 L527.88,45.29 L529.17,45.29 L530.47,45.28 L531.76,45.27 L533.05,45.26 L534.34,45.25 L535.62,45.23 L536.91,45.22 L538.19,45.20 L539.48,45.19" stroke="#295a82"/><path d="M80.52,440.00 L81.81,440.00 L83.11,440.00 L84.41,440.00 L85.71,440.00 L87.00,440.00 L88.30,440.00 L89.60,440.00 L90.90,440.00 L92.19,440.00 L93.49,440.00 L94.79,439.99 L96.09,439.99 L97.38,439.99 L98.68,439.99 L99.98,439.99 L101.28,439.98 L102.58,439.98 L103.88,439.98 L105.17,439.98 L106.47,439.98 L107.77,439.98 L109.07,439.98 L110.37,439.98 L111.67,439.97 L112.97,439.97 L114.27,439.97 L115.57,439.97 L116.86,439.97 L118.16,439.97 L119.46,439.97 L120.76,439.97 L122.06,439.97 L123.36,439.97 L124.66,439.97 L125.96,439.97 L127.26,439.97 L128.56,439.97 L129.86,439.97 L131.16,439.97 L132.46,439.97 L133.76,439.97 L135.06,439.97 L136.36,439.97 L137.66,439.97 L138.96,439.97 L140.26,439.97 L141.56,439.97 L142.86,439.97 L144.16,439.97 L145.46,439.97 L146.76,439.97 L148.06,439.97 L149.36,439.97 L150.66,439.97 L151.96,439.97 L153.26,439.97 L154.56,439.97 L155.86,439.97 L157.16,439.97 L158.46,439.97 L159.76,439.97 L161.06,439.97 L162.36,439.97 L163.65,439.97 L164.95,439.97 L166.25,439.97 L167.55,439.97 L168.85,439.97 L170.15,439.97 L171.45,439.97 L172.75,439.97 L174.05,439.97 L175.35,439.97 L176.65,439.97 L177.95,439.97 L179.25,439.97 L180.55,439.97 L181.85,439.97 L183.15,439.97 L184.45,439.97 L185.75,439.97 L187.05,439.97 L188.35,439.97 L189.65,439.97 L190.95,439.97 L192.25,439.97 L193.54,439.97 L194.84,439.97 L196.14,439.97 L197.44,439.97 L198.74,439.97 L200.04,439.97 L201.34,439.97 L202.64,439.97 L203.94,439.97 L205.23,439.97 L206.53,439.97 L207.83,439.97 L209.13,439.97 L210.43,439.97 L211.73,439.97 L213.02,439.97 L214.32,439.97 L215.62,439.97 L216.92,439.97 L218.22,439.97 L219.51,439.97 L220.81,439.97 L222.11,439.97 L223.41,439.97 L224.71,439.97 L226.00,439.97 L227.30,439.97 L228.60,439.97 L229.90,439.97 L231.19,439.97 L232.49,439.97 L233.79,439.97 L235.09,439.97 L236.39,439.97 L237.68,439.97 L238.98,439.97 L240.28,439.97 L241.58,439.96 L242.88,439.96 L244.17,439.96 L245.47,439.96 L246.77,439.95 L248.07,439.95 L249.37,439.95 L250.67,439.95 L251.96,439.95 L253.26,439.94 L254.56,439.94 L255.86,439.94 L257.16,439.94 L258.46,439.94 L259.76,439.94 L261.05,439.94 L262.35,439.94 L263.65,439.94 L264.95,439.94 L266.25,439.94 L267.55,439.94 L268.85,439.94 L270.15,439.94 L271.45,439.94 L272.75,439.94 L274.05,439.94 L275.35,439.94 L276.65,439.94 L277.95,439.94 L279.25,439.94 L280.55,439.94 L281.85,439.94 L283.15,439.94 L284.45,439.94 L285.75,439.94 L287.05,439.94 L288.35,439.94 L289.65,439.94 L290.95,439.94 L292.26,439.94 L293.56,439.94 L294.86,439.94 L296.16,439.94 L297.46,439.94 L298.77,439.94 L300.07,439.94 L301.37,439.94 L302.67,439.94 L303.98,439.94 L305.28,439.94 L306.58,439.94 L307.89,439.94 L309.19,439.94 L310.50,439.94 L311.80,439.94 L313.10,439.94 L314.41,439.94 L315.71,439.94 L317.02,439.94 L318.32,439.94 L319.63,439.94 L320.93,439.94 L322.23,439.94 L323.53,439.94 L324.83,439.94 L326.12,439.94 L327.42,439.89 L328.71,439.79 L330.00,439.67 L331.28,439.52 L332.56,439.34 L333.84,439.14 L335.12,438.91 L336.39,438.64 L337.65,438.34 L338.90,438.00 L340.14,437.62 L341.35,437.20 L342.55,436.74 L343.71,436.22 L344.83,435.66 L345.92,435.05 L346.96,434.38 L347.96,433.65 L348.90,432.87 L349.78,432.02 L350.60,431.11 L351.35,430.13 L352.03,429.08 L352.64,427.97 L353.19,426.80 L353.69,425.59 L354.14,424.34 L354.56,423.06 L354.95,421.76 L355.32,420.45 L355.69,419.15 L356.05,417.86 L356.42,416.57 L356.78,415.30 L357.13,414.03 L357.46,412.77 L357.79,411.50 L358.09,410.24 L358.37,408.97 L358.63,407.70 L358.88,406.42 L359.11,405.15 L359.33,403.87 L359.54,402.60 L359.74,401.32 L359.93,400.04 L360.11,398.76 L360.28,397.47 L360.45,396.19 L360.62,394.91 L360.78,393.63 L360.95,392.34 L361.11,391.06 L361.28,389.77 L361.45,388.49 L361.61,387.21 L361.78,385.92 L361.95,384.64 L362.12,383.35 L362.28,382.07 L362.45,380.78 L362.62,379.50 L362.79,378.21 L362.96,376.93 L363.14,375.64 L363.31,374.36 L363.48,373.07 L363.65,371.79 L363.82,370.50 L364.00,369.22 L364.17,367.93 L364.34,366.64 L364.52,365.36 L364.69,364.07 L364.86,362.79 L365.04,361.50 L365.21,360.21 L365.39,358.93 L365.56,357.64 L365.74,356.35 L365.91,355.07 L366.09,353.78 L366.26,352.49 L366.44,351.20 L366.61,349.92 L366.79,348.63 L366.96,347.34 L367.14,346.06 L367.32,344.77 L367.49,343.48 L367.67,342.19 L367.84,340.91 L368.02,339.62 L368.19,338.33 L368.37,337.04 L368.54,335.75 L368.72,334.47 L368.89,333.18 L369.07,331.89 L369.24,330.60 L369.42,329.31 L369.59,328.03 L369.76,326.74 L369.94,325.45 L370.11,324.16 L370.28,322.87 L370.46,321.59 L370.63,320.30 L370.80,319.01 L370.97,317.72 L371.14,316.43 L371.31,315.14 L371.48,313.85 L371.65,312.57 L371.82,311.28 L371.99,309.99 L372.16,308.70 L372.33,307.41 L372.50,306.12 L372.67,304.83 L372.83,303.55 L373.00,302.26 L373.17,300.97 L373.33,299.68 L373.50,298.39 L373.66,297.10 L373.83,295.81 L373.99,294.52 L374.15,293.24 L374.32,291.95 L374.48,290.66 L374.64,289.37 L374.80,288.08 L374.96,286.79 L375.12,285.50 L375.29,284.21 L375.45,282.92 L375.61,281.64 L375.76,280.35 L375.92,279.06 L376.08,277.77 L376.24,276.48 L376.40,275.19 L376.55,273.90 L376.71,272.61 L376.87,271.32 L377.02,270.03 L377.18,268.74 L377.34,267.45 L377.49,266.16 L377.65,264.88 L377.80,263.59 L377.95,262.30 L378.11,261.01 L378.26,259.72 L378.41,258.43 L378.57,257.14 L378.72,255.85 L378.87,254.56 L379.02,253.27 L379.18,251.98 L379.33,250.69 L379.48,249.40 L379.63,248.11 L379.78,246.82 L379.93,245.53 L380.08,244.24 L380.23,242.95 L380.38,241.66 L380.53,240.37 L380.67,239.08 L380.82,237.79 L380.97,236.50 L381.12,235.21 L381.27,233.92 L381.41,232.63 L381.56,231.34 L381.71,230.05 L381.85,228.76 L382.00,227.47 L382.15,226.18 L382.29,224.89 L382.44,223.59 L382.58,222.30 L382.73,221.01 L382.87,219.72 L383.02,218.43 L383.16,217.14 L383.31,215.85 L383.45,214.56 L383.60,213.27 L383.74,211.98 L383.88,210.68 L384.03,209.39 L384.17,208.10 L384.31,206.81 L384.46,205.52 L384.60,204.23 L384.74,202.94 L384.89,201.64 L385.03,200.35 L385.18,199.06 L385.32,197.77 L385.46,196.48 L385.61,195.19 L385.75,193.90 L385.90,192.61 L386.05,191.31 L386.19,190.02 L386.34,188.73 L386.49,187.44 L386.64,186.15 L386.79,184.86 L386.94,183.57 L387.09,182.28 L387.24,180.99 L387.40,179.70 L387.55,178.41 L387.71,177.12 L387.86,175.83 L388.02,174.54 L388.18,173.25 L388.34,171.96 L388.51,170.67 L388.67,169.38 L388.83,168.10 L389.00,166.81 L389.17,165.52 L389.34,164.23 L389.51,162.95 L389.69,161.66 L389.86,160.37 L390.04,159.09 L390.22,157.80 L390.40,156.51 L390.58,155.23 L390.77,153.94 L390.96,152.66 L391.15,151.38 L391.34,150.09 L391.53,148.81 L391.73,147.52 L391.93,146.24 L392.13,144.96 L392.34,143.68 L392.54,142.40 L392.75,141.12 L392.97,139.84 L393.18,138.56 L393.40,137.28 L393.62,136.00 L393.84,134.72 L394.07,133.44 L394.30,132.16 L394.53,130.89 L394.77,129.61 L395.01,128.33 L395.25,127.06 L395.49,125.78 L395.74,124.51 L396.00,123.23 L396.25,121.96 L396.51,120.69 L396.77,119.42 L397.04,118.14 L397.31,116.87 L397.58,115.60 L397.86,114.33 L398.13,113.06 L398.41,111.80 L398.70,110.53 L398.98,109.26 L399.26,107.99 L399.54,106.72 L399.83,105.46 L400.11,104.19 L400.39,102.92 L400.68,101.65 L400.96,100.39 L401.24,99.12 L401.51,97.85 L401.79,96.58 L402.06,95.32 L402.33,94.05 L402.59,92.78 L402.86,91.52 L403.13,90.25 L403.41,88.99 L403.70,87.73 L404.00,86.48 L404.31,85.23 L404.63,83.99 L404.98,82.75 L405.34,81.52 L405.73,80.31 L406.14,79.10 L406.58,77.90 L407.05,76.71 L407.56,75.53 L408.10,74.36 L408.68,73.21 L409.29,72.08 L409.95,70.95 L410.64,69.84 L411.35,68.74 L412.09,67.64 L412.86,66.56 L413.63,65.48 L414.42,64.41 L415.22,63.34 L416.02,62.28 L416.83,61.22 L417.66,60.18 L418.50,59.18 L419.38,58.21 L420.29,57.30 L421.24,56.44 L422.23,55.63 L423.24,54.86 L424.29,54.15 L425.37,53.47 L426.47,52.84 L427.60,52.25 L428.74,51.70 L429.91,51.18 L431.09,50.69 L432.28,50.24 L433.48,49.81 L434.70,49.41 L435.92,49.04 L437.14,48.69 L438.38,48.36 L439.62,48.06 L440.86,47.78 L442.11,47.52 L443.37,47.28 L444.63,47.06 L445.90,46.86 L447.17,46.68 L448.44,46.51 L449.72,46.36 L451.01,46.23 L452.29,46.11 L453.59,46.01 L454.88,45.92 L456.18,45.85 L457.48,45.78 L458.78,45.73 L460.09,45.69 L461.40,45.65 L462.71,45.63 L464.02,45.62 L465.33,45.61 L466.65,45.61 L467.96,45.61 L469.28,45.61 L470.60,45.61 L471.92,45.61 L473.23,45.61 L474.55,45.61 L475.87,45.61 L477.18,45.61 L478.50,45.61 L479.81,45.61 L481.13,45.61 L482.44,45.61 L483.75,45.61 L485.06,45.61 L486.36,45.61 L487.67,45.61 L488.97,45.61 L490.27,45.61 L491.57,45.61 L492.86,45.61 L494.16,45.61 L495.45,45.61 L496.74,45.61 L498.03,45.61 L499.32,45.61 L500.61,45.61 L501.89,45.61 L503.18,45.58 L504.47,45.54 L505.75,45.50 L507.04,45.46 L508.33,45.43 L509.61,45.39 L510.90,45.35 L512.19,45.31 L513.47,45.28 L514.76,45.24 L516.05,45.21 L517.34,45.19 L518.63,45.16 L519.93,45.14 L521.22,45.12 L522.52,45.10 L523.82,45.09 L525.12,45.09 L526.42,45.08 L527.72,45.08 L529.03,45.08 L530.34,45.08 L531.65,45.08 L532.97,45.08 L534.29,45.08 L535.61,45.08 L536.93,45.08 L538.26,45.08 L539.50,45.08" stroke="#86481e"/>
</g>
<rect x="453" y="76" width="74" height="24" fill="#fff"/>
<g stroke="#404040" stroke-width="1" fill="none">
<polyline points="211.4,76.4 289.4,76.4 389.7,121.5"/>
<polyline points="210.6,134.2 303.8,134.2 377.2,165.5"/>
<polyline points="211,189.4 288,189.4 359,221.4"/>
<polyline points="210,245.6 288,245.6 334.2,264.8"/>
<polyline points="483.6,424.9 395,424.9 360.4,406.4"/>
</g>
<text transform="translate(207.60,67.20) scale(0.965,1)" x="0" y="0" font-size="22.8" stroke="#000" stroke-width="0.25">19.6 µm</text><text transform="translate(207.00,123.90) scale(0.965,1)" x="0" y="0" font-size="22.8" stroke="#000" stroke-width="0.25">16.8 µm</text><text transform="translate(208.42,178.60) scale(0.965,1)" x="0 11.27 24 27.64 40.43" y="0" font-size="22.8" stroke="#000" stroke-width="0.25">14 µm</text><text transform="translate(208.10,234.40) scale(0.965,1)" x="0" y="0" font-size="22.8" stroke="#000" stroke-width="0.25">11.2 µm</text><text transform="translate(458.70,92.60) scale(0.965,1)" x="0" y="0" font-size="22.8" stroke="#000" stroke-width="0.25">8.4 µm</text><text transform="translate(459.20,248.00) scale(0.965,1)" x="0" y="0" font-size="22.8" stroke="#000" stroke-width="0.25">5.6 µm</text><text transform="translate(453.70,350.80) scale(0.965,1)" x="0" y="0" font-size="22.8" stroke="#000" stroke-width="0.25">2.8 µm</text><text transform="translate(404.60,418.00) scale(0.965,1)" x="0" y="0" font-size="22.8" stroke="#000" stroke-width="0.25">22.4 µm</text><text x="38.60" y="44.40" font-size="16.5" stroke="#000" stroke-width="0.35" textLength="33.50" lengthAdjust="spacing">0.14</text><text x="38.60" y="101.69" font-size="16.5" stroke="#000" stroke-width="0.35" textLength="33.90" lengthAdjust="spacing">0.12</text><text x="38.60" y="158.97" font-size="16.5" stroke="#000" stroke-width="0.35" textLength="34.30" lengthAdjust="spacing">0.10</text><text x="38.60" y="216.26" font-size="16.5" stroke="#000" stroke-width="0.35" textLength="34.30" lengthAdjust="spacing">0.08</text><text x="38.60" y="273.54" font-size="16.5" stroke="#000" stroke-width="0.35" textLength="34.30" lengthAdjust="spacing">0.06</text><text x="38.60" y="330.83" font-size="16.5" stroke="#000" stroke-width="0.35" textLength="33.50" lengthAdjust="spacing">0.04</text><text x="38.60" y="387.11" font-size="16.5" stroke="#000" stroke-width="0.35" textLength="33.90" lengthAdjust="spacing">0.02</text><text x="64.20" y="440.80" font-size="16.5" stroke="#000" stroke-width="0.35">0</text><text x="77.00" y="468.60" font-size="15.5" stroke="#000" stroke-width="0.35">10</text><text x="296.40" y="468.60" font-size="15.5" stroke="#000" stroke-width="0.35">10</text><text x="514.00" y="469.80" font-size="15.5" stroke="#000" stroke-width="0.35">10</text><text x="91.80" y="456.80" font-size="12.5" stroke="#000" stroke-width="0.35">−</text><text x="101.00" y="456.60" font-size="12.5" stroke="#000" stroke-width="0.35">6</text><text x="309.00" y="457.00" font-size="12.5" stroke="#000" stroke-width="0.35">−</text><text x="317.70" y="456.60" font-size="12.5" stroke="#000" stroke-width="0.35">5</text><text x="525.10" y="457.00" font-size="12.5" stroke="#000" stroke-width="0.35">−</text><text x="535.20" y="457.40" font-size="12.5" stroke="#000" stroke-width="0.35">4</text><text x="299.4 304.0 308 313.3" y="494.00" font-size="17.5" stroke="#000" stroke-width="0.25"><tspan font-style="italic">t</tspan>, s</text><text transform="translate(20.60,259.40) rotate(-90)" font-size="16.1" x="0.1 9.35 15 20.0" stroke="#000" stroke-width="0.25"><tspan font-style="italic">P</tspan>, %</text>
</svg>
</body></html>
